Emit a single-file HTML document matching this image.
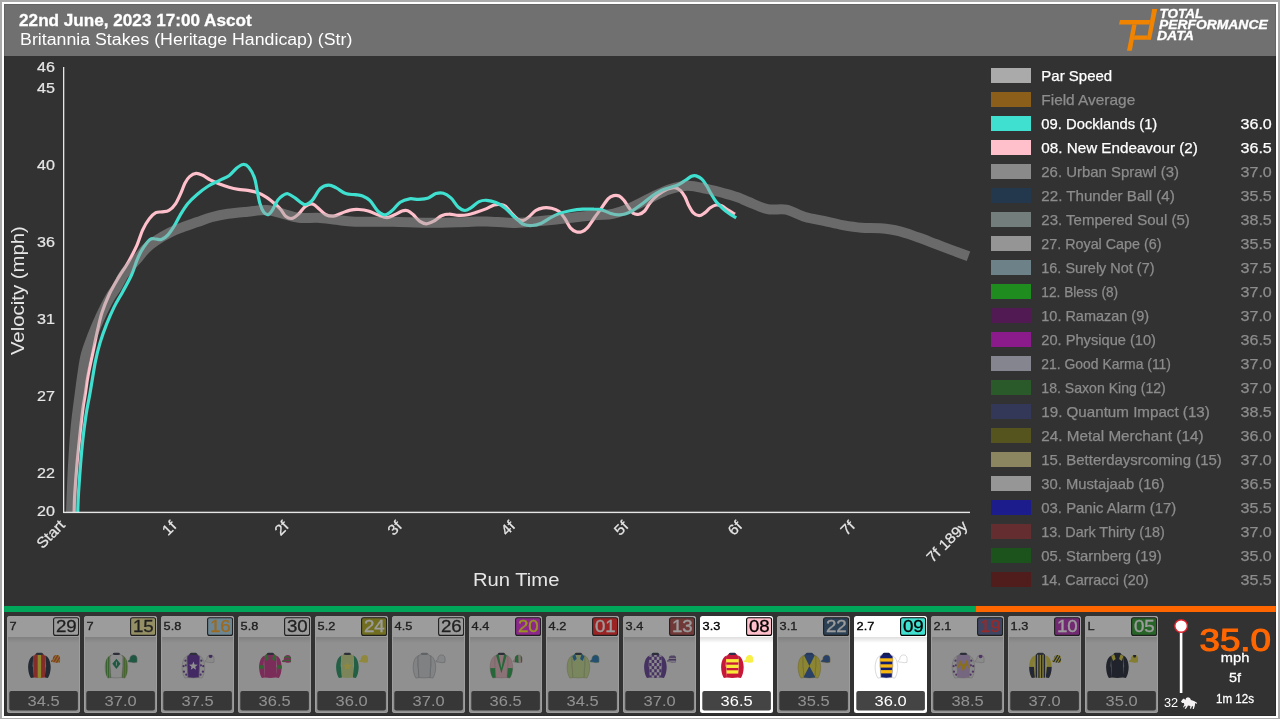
<!DOCTYPE html>
<html lang="en"><head><meta charset="utf-8"><title>Britannia Stakes - Total Performance Data</title>
<style>
html,body{margin:0;padding:0;background:#aaaaaa;overflow:hidden}
svg{display:block;font-family:"Liberation Sans", sans-serif}
text{white-space:pre}
</style></head><body>
<svg width="1280" height="719" viewBox="0 0 1280 719">

<rect x="0" y="0" width="1280" height="719" fill="#aaaaaa"/>
<rect x="2" y="2" width="1276" height="716" fill="#ffffff"/>
<rect x="4" y="4" width="1272" height="712" fill="#323232"/>
<rect x="4" y="4" width="1272" height="52" fill="#707070"/>
<text x="19.1" y="26.2" font-size="16" font-weight="bold" font-style="normal" fill="#fff" textLength="232.6" lengthAdjust="spacingAndGlyphs" stroke="#fff" stroke-width="0.3">22nd June, 2023 17:00 Ascot</text>
<text x="20.1" y="45.0" font-size="16" font-weight="normal" font-style="normal" fill="#fff" textLength="332.2" lengthAdjust="spacingAndGlyphs">Britannia Stakes (Heritage Handicap) (Str)</text>
<g fill="#f08400">
<polygon points="1152.2,9 1157.2,9 1151,39.8 1146.8,39.8"/>
<polygon points="1120,20 1150.2,20 1149.4,24.4 1119,24.4"/>
<polygon points="1132.2,24.4 1136.6,24.4 1131.8,50.8 1127,50.8"/>
<polygon points="1134.4,35.5 1147.6,35.5 1146.8,39.8 1133.6,39.8"/>
</g>
<text x="1159.6" y="17.8" font-size="11.9" font-weight="bold" font-style="italic" fill="#fff" textLength="43.6" lengthAdjust="spacingAndGlyphs" stroke="#fff" stroke-width="0.3">TOTAL</text>
<text x="1158.9" y="28.6" font-size="11.9" font-weight="bold" font-style="italic" fill="#fff" textLength="108.8" lengthAdjust="spacingAndGlyphs" stroke="#fff" stroke-width="0.3">PERFORMANCE</text>
<text x="1156.9" y="39.5" font-size="11.9" font-weight="bold" font-style="italic" fill="#fff" textLength="37.0" lengthAdjust="spacingAndGlyphs" stroke="#fff" stroke-width="0.3">DATA</text>
<defs><clipPath id="plot"><rect x="64" y="60" width="910" height="452"/></clipPath></defs>
<text transform="translate(55.0 72.2) scale(1.12 1)" font-size="14.4" font-weight="normal" font-style="normal" fill="#e6e6e6" text-anchor="end" stroke="#e6e6e6" stroke-width="0.2">46</text>
<text transform="translate(55.0 93.2) scale(1.12 1)" font-size="14.4" font-weight="normal" font-style="normal" fill="#e6e6e6" text-anchor="end" stroke="#e6e6e6" stroke-width="0.2">45</text>
<text transform="translate(55.0 170.2) scale(1.12 1)" font-size="14.4" font-weight="normal" font-style="normal" fill="#e6e6e6" text-anchor="end" stroke="#e6e6e6" stroke-width="0.2">40</text>
<text transform="translate(55.0 247.2) scale(1.12 1)" font-size="14.4" font-weight="normal" font-style="normal" fill="#e6e6e6" text-anchor="end" stroke="#e6e6e6" stroke-width="0.2">36</text>
<text transform="translate(55.0 324.2) scale(1.12 1)" font-size="14.4" font-weight="normal" font-style="normal" fill="#e6e6e6" text-anchor="end" stroke="#e6e6e6" stroke-width="0.2">31</text>
<text transform="translate(55.0 401.2) scale(1.12 1)" font-size="14.4" font-weight="normal" font-style="normal" fill="#e6e6e6" text-anchor="end" stroke="#e6e6e6" stroke-width="0.2">27</text>
<text transform="translate(55.0 478.2) scale(1.12 1)" font-size="14.4" font-weight="normal" font-style="normal" fill="#e6e6e6" text-anchor="end" stroke="#e6e6e6" stroke-width="0.2">22</text>
<text transform="translate(55.0 516.2) scale(1.12 1)" font-size="14.4" font-weight="normal" font-style="normal" fill="#e6e6e6" text-anchor="end" stroke="#e6e6e6" stroke-width="0.2">20</text>
<text x="-40.9" y="290.6" font-size="18" font-weight="normal" font-style="normal" fill="#e6e6e6" textLength="129.0" lengthAdjust="spacingAndGlyphs" transform="rotate(-90 23.6 290.6)">Velocity (mph)</text>
<g clip-path="url(#plot)" fill="none" stroke-linecap="butt" stroke-linejoin="round">
<path d="M74.1,513.0C74.2,509.7 74.3,501.3 74.8,493.3C75.3,485.3 76.1,474.5 76.9,465.1C77.7,455.7 78.7,446.3 79.7,436.9C80.7,427.5 81.9,416.3 82.9,408.8C83.9,401.3 84.8,397.4 85.6,392.0C86.4,386.6 86.7,382.8 87.9,376.4C89.1,370.0 91.0,361.4 92.6,353.9C94.2,346.4 95.7,338.3 97.3,331.4C98.9,324.5 100.0,318.9 102.0,312.6C104.0,306.3 106.7,299.8 109.5,293.8C112.3,287.9 116.2,281.5 118.9,276.9C121.7,272.3 123.9,269.4 126.0,266.0C128.1,262.6 129.6,259.9 131.4,256.4C133.2,252.9 135.1,249.6 137.0,245.2C138.9,240.8 140.6,234.5 142.6,230.1C144.6,225.7 147.0,221.8 149.2,218.9C151.4,216.0 153.6,213.9 155.8,212.7C158.0,211.5 160.1,212.3 162.3,211.9C164.5,211.5 166.7,211.8 168.9,210.4C171.1,209.1 173.5,206.8 175.5,203.8C177.5,200.8 179.5,196.0 181.1,192.6C182.7,189.2 183.5,185.9 184.9,183.2C186.3,180.5 187.7,178.2 189.6,176.6C191.5,175.0 193.9,173.6 196.1,173.4C198.3,173.2 200.3,174.2 202.7,175.3C205.0,176.4 207.4,178.3 210.2,179.8C213.0,181.3 216.5,182.8 219.6,184.1C222.7,185.3 225.9,186.4 229.0,187.3C232.1,188.2 235.3,188.9 238.4,189.4C241.5,189.9 244.7,189.8 247.8,190.3C250.9,190.8 254.1,191.4 257.2,192.6C260.3,193.8 263.5,195.3 266.6,197.3C269.7,199.3 273.6,202.7 276.0,204.8C278.4,206.9 279.4,207.9 281.0,209.8C282.6,211.7 283.8,214.8 285.6,216.2C287.4,217.6 289.8,218.8 292.0,218.4C294.2,218.0 296.6,215.8 298.8,213.8C301.0,211.8 303.0,207.9 305.4,206.3C307.8,204.7 310.6,203.6 312.9,204.1C315.2,204.6 317.2,207.4 319.4,209.2C321.6,211.0 323.6,213.7 326.0,214.8C328.4,216.0 330.8,216.4 333.5,216.1C336.2,215.8 339.2,213.9 342.0,212.9C344.8,211.9 347.6,210.7 350.4,210.1C353.2,209.5 355.9,209.3 358.9,209.5C361.9,209.7 365.2,210.1 368.3,211.0C371.4,211.9 374.6,213.7 377.7,214.8C380.8,215.9 384.2,217.6 387.0,217.6C389.8,217.6 392.1,215.9 394.6,214.8C397.1,213.7 399.9,211.7 402.1,211.0C404.3,210.3 405.8,210.1 407.7,210.7C409.6,211.3 411.3,213.0 413.3,214.8C415.3,216.6 417.7,219.9 419.9,221.4C422.1,222.9 424.1,223.9 426.5,223.8C428.9,223.7 431.5,222.3 434.0,221.0C436.5,219.7 439.0,216.8 441.5,215.7C444.0,214.6 446.2,214.2 449.0,214.2C451.8,214.1 455.3,215.3 458.4,215.4C461.5,215.5 464.7,215.4 467.8,214.8C470.9,214.2 474.1,213.0 477.2,212.0C480.3,211.0 483.8,209.8 486.6,208.6C489.4,207.4 491.7,205.7 494.1,205.0C496.5,204.3 499.1,204.4 501.0,204.6C502.9,204.8 503.9,204.9 505.6,206.3C507.3,207.7 509.3,210.8 511.3,212.9C513.3,215.0 515.8,217.8 517.8,219.1C519.8,220.3 521.6,220.8 523.5,220.4C525.4,220.0 527.1,218.3 529.1,216.7C531.1,215.0 533.4,212.0 535.7,210.5C538.1,209.0 540.6,208.2 543.2,207.8C545.9,207.4 548.9,207.6 551.6,208.2C554.3,208.8 557.0,209.9 559.2,211.6C561.4,213.3 562.9,215.8 564.8,218.5C566.7,221.2 568.5,225.7 570.4,227.9C572.3,230.1 574.2,231.1 576.1,231.7C578.0,232.3 579.8,232.3 581.7,231.7C583.6,231.1 585.3,230.1 587.3,227.9C589.3,225.7 591.5,221.8 593.9,218.5C596.2,215.2 599.0,211.5 601.4,208.2C603.8,204.9 606.0,200.9 608.0,198.8C610.0,196.7 611.7,196.1 613.6,195.6C615.5,195.1 617.5,195.2 619.2,196.0C620.9,196.8 622.3,198.4 623.9,200.3C625.5,202.2 627.0,205.1 628.6,207.3C630.2,209.5 631.6,212.2 633.3,213.3C635.0,214.5 637.1,214.6 639.0,214.2C640.9,213.8 642.7,212.9 644.6,211.0C646.5,209.1 648.0,205.2 650.2,202.6C652.4,199.9 654.9,197.3 657.7,195.1C660.5,192.9 664.3,190.7 667.1,189.4C669.9,188.2 672.4,187.4 674.6,187.6C676.8,187.8 678.6,188.8 680.3,190.4C682.0,192.0 683.6,194.4 685.0,196.9C686.4,199.4 687.3,202.7 688.7,205.4C690.1,208.1 691.7,211.2 693.4,212.9C695.1,214.6 697.2,215.7 699.1,215.7C701.0,215.7 702.8,214.2 704.7,212.9C706.6,211.6 708.4,209.1 710.3,207.8C712.2,206.5 714.1,205.3 716.0,205.0C717.9,204.7 719.6,205.0 721.6,205.8C723.6,206.7 726.0,208.7 728.2,210.1C730.4,211.5 733.9,213.5 735.0,214.2" stroke="#ffc0cb" stroke-width="3.2"/>
<path d="M77.7,513.0C77.8,509.4 78.1,499.4 78.6,491.4C79.1,483.4 79.8,473.9 80.5,465.1C81.2,456.3 82.0,447.2 82.9,438.8C83.8,430.4 84.9,422.2 86.1,414.4C87.3,406.6 88.7,400.8 90.2,392.0C91.8,383.2 93.8,369.6 95.4,361.4C97.1,353.2 98.2,348.9 100.1,342.6C102.0,336.3 104.3,329.8 106.7,323.8C109.1,317.9 111.6,312.2 114.2,306.9C116.8,301.6 119.7,297.2 122.6,291.9C125.5,286.6 129.1,280.3 131.5,275.0C133.9,269.7 135.2,264.6 137.0,260.2C138.8,255.8 140.4,252.3 142.6,248.9C144.8,245.5 147.9,241.2 150.1,239.5C152.3,237.8 153.9,239.0 155.8,239.0C157.7,239.0 159.4,240.2 161.4,239.5C163.4,238.8 165.8,237.2 168.0,234.8C170.2,232.5 172.6,228.7 174.6,225.4C176.6,222.1 178.0,218.7 180.2,215.1C182.4,211.5 184.9,207.2 187.7,203.8C190.5,200.4 193.6,197.5 197.1,194.5C200.6,191.5 204.7,188.3 208.4,186.0C212.2,183.7 216.2,182.1 219.6,180.4C223.0,178.7 226.2,177.7 229.0,175.7C231.8,173.7 234.2,170.1 236.5,168.2C238.8,166.3 241.1,164.7 243.1,164.5C245.1,164.3 246.8,165.0 248.7,167.2C250.6,169.4 253.0,173.7 254.4,177.6C255.8,181.5 256.3,186.3 257.2,190.7C258.1,195.1 258.9,200.2 260.0,203.8C261.1,207.4 262.4,210.5 263.8,212.3C265.2,214.1 266.7,214.9 268.1,214.6C269.5,214.3 270.6,212.8 272.2,210.4C273.8,208.0 276.0,202.6 277.8,200.1C279.6,197.6 281.3,196.5 283.0,195.4C284.7,194.3 285.8,193.3 287.8,193.7C289.8,194.1 292.2,196.1 295.0,197.9C297.8,199.7 301.6,204.0 304.4,204.5C307.2,205.0 309.2,203.4 311.9,200.7C314.6,198.0 317.6,191.1 320.4,188.5C323.2,185.9 326.1,185.2 328.8,185.1C331.5,185.0 333.5,186.5 336.3,187.9C339.1,189.3 342.6,192.5 345.7,193.6C348.8,194.7 352.3,194.3 355.1,194.7C357.9,195.1 360.1,195.0 362.6,196.0C365.1,197.0 367.6,198.2 370.1,200.7C372.6,203.2 375.2,208.7 377.7,211.0C380.2,213.3 382.7,215.0 385.2,214.8C387.7,214.7 390.2,212.2 392.7,210.1C395.2,208.0 397.4,204.1 400.2,202.2C403.0,200.3 406.5,199.3 409.6,198.8C412.7,198.3 415.9,199.6 419.0,199.4C422.1,199.2 425.6,198.9 428.4,197.9C431.2,196.9 433.4,194.4 435.9,193.6C438.4,192.8 440.9,192.5 443.4,193.2C445.9,193.9 448.4,195.6 450.9,197.9C453.4,200.2 456.0,205.2 458.4,207.3C460.8,209.4 462.8,210.5 465.0,210.5C467.2,210.5 469.1,208.8 471.5,207.3C473.9,205.8 476.6,202.8 479.1,201.6C481.6,200.4 483.8,200.1 486.6,200.3C489.4,200.5 492.9,201.3 496.0,202.6C499.1,203.9 502.6,206.0 505.4,208.2C508.2,210.4 510.6,213.6 512.9,215.7C515.2,217.8 517.1,219.5 519.0,221.0C520.9,222.5 521.9,223.8 524.0,224.5C526.1,225.2 529.0,225.7 531.9,225.5C534.8,225.3 538.2,224.5 541.3,223.2C544.4,221.9 547.6,219.2 550.7,217.6C553.8,215.9 556.7,214.5 560.1,213.3C563.5,212.1 567.6,211.2 571.4,210.5C575.1,209.8 578.9,209.4 582.6,209.2C586.4,209.0 590.6,209.0 593.9,209.2C597.2,209.3 599.5,209.4 602.3,210.1C605.1,210.8 608.1,212.7 610.8,213.5C613.5,214.3 615.8,214.8 618.3,214.8C620.8,214.9 623.3,214.6 625.8,213.8C628.3,213.0 630.5,211.8 633.3,210.1C636.1,208.4 639.6,205.8 642.7,203.5C645.8,201.2 649.0,198.2 652.1,196.0C655.2,193.8 658.4,191.9 661.5,190.4C664.6,188.9 668.1,188.1 670.9,187.2C673.7,186.2 675.9,185.9 678.4,184.7C680.9,183.5 683.7,181.4 685.9,180.0C688.1,178.6 689.8,177.0 691.5,176.3C693.2,175.6 694.5,175.4 696.2,175.9C697.9,176.4 700.2,177.5 701.9,179.1C703.6,180.7 705.0,183.2 706.6,185.7C708.2,188.2 709.7,191.4 711.3,194.1C712.9,196.8 714.1,199.2 716.0,201.6C717.9,203.9 720.3,206.2 722.5,208.2C724.7,210.2 726.8,211.9 729.1,213.5C731.4,215.1 735.0,217.1 736.2,217.8" stroke="#40e0d0" stroke-width="3.2"/>
<path d="M71.0,513.0C71.3,505.0 72.2,479.3 73.0,465.1C73.8,450.9 74.5,439.5 75.6,427.6C76.7,415.8 78.5,403.1 79.7,394.0C80.9,384.9 81.5,379.4 82.6,372.7C83.6,366.0 84.3,360.2 86.0,353.9C87.7,347.6 90.2,341.4 92.6,335.1C95.0,328.8 97.6,322.6 100.5,316.3C103.4,310.1 107.2,302.4 109.9,297.6C112.6,292.8 114.2,291.4 116.7,287.4C119.2,283.4 121.2,278.0 124.6,273.4C128.0,268.8 133.3,263.6 136.9,259.5C140.5,255.4 142.9,251.7 146.0,248.6C149.1,245.5 151.7,243.5 155.6,240.8C159.5,238.2 164.9,235.0 169.5,232.7C174.1,230.4 178.8,228.7 183.4,226.9C188.1,225.1 192.8,223.6 197.4,222.0C202.1,220.4 206.2,218.7 211.3,217.3C216.4,215.9 221.9,214.7 228.0,213.8C234.1,212.9 241.4,212.3 247.8,211.7C254.2,211.0 261.2,209.7 266.6,209.9C272.0,210.1 274.6,211.6 280.0,212.9C285.4,214.2 292.5,217.0 298.8,217.8C305.1,218.6 311.4,217.5 317.6,217.8C323.9,218.2 330.1,219.2 336.3,219.9C342.6,220.6 345.7,221.4 355.1,221.7C364.5,222.0 380.2,221.5 392.7,221.7C405.2,221.9 417.7,222.7 430.2,222.7C442.7,222.7 458.4,222.1 467.8,221.9C477.2,221.7 480.3,221.3 486.6,221.4C492.9,221.5 500.0,222.3 505.4,222.5C510.8,222.7 510.3,223.2 518.8,222.7C527.3,222.2 543.8,220.8 556.3,219.5C568.8,218.2 584.5,216.1 593.9,215.2C603.3,214.2 606.4,215.1 612.7,213.8C619.0,212.5 625.2,210.0 631.5,207.3C637.8,204.7 644.0,200.9 650.2,197.9C656.5,194.9 662.7,191.4 669.0,189.4C675.3,187.4 681.5,185.8 687.8,185.7C694.1,185.6 700.4,187.6 706.6,188.9C712.9,190.2 721.1,192.5 725.3,193.6C729.5,194.7 729.5,194.8 732.0,195.6C734.5,196.4 737.2,197.1 740.0,198.2C742.8,199.3 744.2,200.2 748.8,202.0C753.4,203.8 761.4,207.9 767.6,209.2C773.9,210.5 780.0,208.4 786.3,209.7C792.5,211.0 798.8,215.2 805.1,217.0C811.4,218.8 817.6,219.5 823.9,220.8C830.2,222.2 836.4,223.9 842.7,225.1C849.0,226.2 855.2,227.2 861.5,227.7C867.8,228.2 874.0,227.7 880.2,228.3C886.5,228.9 892.7,229.6 899.0,231.1C905.3,232.6 911.5,235.1 917.8,237.3C924.1,239.5 930.4,242.0 936.6,244.3C942.9,246.7 950.0,249.4 955.3,251.4C960.6,253.4 966.3,255.5 968.5,256.3" stroke="#a2a2a2" stroke-opacity="0.5" stroke-width="10"/>
</g>
<rect x="63" y="67" width="1.3" height="446" fill="#e6e6e6"/>
<rect x="63" y="511.7" width="907" height="1.4" fill="#e6e6e6"/>
<text transform="translate(65.8 526.0) rotate(-45) scale(1.07 1)" font-size="14.6" font-weight="normal" font-style="normal" fill="#e6e6e6" text-anchor="end" stroke="#e6e6e6" stroke-width="0.25">Start</text>
<text transform="translate(177.2 527.0) rotate(-45) scale(1.07 1)" font-size="14.6" font-weight="normal" font-style="normal" fill="#e6e6e6" text-anchor="end" stroke="#e6e6e6" stroke-width="0.25">1f</text>
<text transform="translate(289.6 527.0) rotate(-45) scale(1.07 1)" font-size="14.6" font-weight="normal" font-style="normal" fill="#e6e6e6" text-anchor="end" stroke="#e6e6e6" stroke-width="0.25">2f</text>
<text transform="translate(402.8 527.0) rotate(-45) scale(1.07 1)" font-size="14.6" font-weight="normal" font-style="normal" fill="#e6e6e6" text-anchor="end" stroke="#e6e6e6" stroke-width="0.25">3f</text>
<text transform="translate(516.0 527.0) rotate(-45) scale(1.07 1)" font-size="14.6" font-weight="normal" font-style="normal" fill="#e6e6e6" text-anchor="end" stroke="#e6e6e6" stroke-width="0.25">4f</text>
<text transform="translate(629.2 527.0) rotate(-45) scale(1.07 1)" font-size="14.6" font-weight="normal" font-style="normal" fill="#e6e6e6" text-anchor="end" stroke="#e6e6e6" stroke-width="0.25">5f</text>
<text transform="translate(743.0 527.0) rotate(-45) scale(1.07 1)" font-size="14.6" font-weight="normal" font-style="normal" fill="#e6e6e6" text-anchor="end" stroke="#e6e6e6" stroke-width="0.25">6f</text>
<text transform="translate(855.7 527.0) rotate(-45) scale(1.07 1)" font-size="14.6" font-weight="normal" font-style="normal" fill="#e6e6e6" text-anchor="end" stroke="#e6e6e6" stroke-width="0.25">7f</text>
<text transform="translate(968.6 527.0) rotate(-45) scale(1.07 1)" font-size="14.6" font-weight="normal" font-style="normal" fill="#e6e6e6" text-anchor="end" stroke="#e6e6e6" stroke-width="0.25">7f 189y</text>
<text x="473.0" y="585.5" font-size="18" font-weight="normal" font-style="normal" fill="#e6e6e6" textLength="86.4" lengthAdjust="spacingAndGlyphs">Run Time</text>
<rect x="991" y="68.0" width="40" height="15" fill="#aaaaaa"/>
<text x="1041.3" y="80.7" font-size="14.5" font-weight="normal" font-style="normal" fill="#ffffff" textLength="70.9" lengthAdjust="spacingAndGlyphs" stroke="#ffffff" stroke-width="0.25">Par Speed</text>
<rect x="991" y="92.0" width="40" height="15" fill="#8b5e1a"/>
<text x="1041.3" y="104.7" font-size="14.5" font-weight="normal" font-style="normal" fill="#8c8c8c" textLength="93.9" lengthAdjust="spacingAndGlyphs" stroke="#8c8c8c" stroke-width="0.25">Field Average</text>
<rect x="991" y="116.0" width="40" height="15" fill="#40e0d0"/>
<text x="1041.3" y="128.7" font-size="14.5" font-weight="normal" font-style="normal" fill="#ffffff" textLength="116.0" lengthAdjust="spacingAndGlyphs" stroke="#ffffff" stroke-width="0.25">09. Docklands (1)</text>
<text x="1240.5" y="128.7" font-size="14.5" font-weight="normal" font-style="normal" fill="#ffffff" textLength="31.3" lengthAdjust="spacingAndGlyphs" stroke="#ffffff" stroke-width="0.25">36.0</text>
<rect x="991" y="140.0" width="40" height="15" fill="#ffc0cb"/>
<text x="1041.3" y="152.7" font-size="14.5" font-weight="normal" font-style="normal" fill="#ffffff" textLength="156.5" lengthAdjust="spacingAndGlyphs" stroke="#ffffff" stroke-width="0.25">08. New Endeavour (2)</text>
<text x="1240.5" y="152.7" font-size="14.5" font-weight="normal" font-style="normal" fill="#ffffff" textLength="31.3" lengthAdjust="spacingAndGlyphs" stroke="#ffffff" stroke-width="0.25">36.5</text>
<rect x="991" y="164.0" width="40" height="15" fill="#8a8a8a"/>
<text x="1041.3" y="176.7" font-size="14.5" font-weight="normal" font-style="normal" fill="#8c8c8c" textLength="137.7" lengthAdjust="spacingAndGlyphs" stroke="#8c8c8c" stroke-width="0.25">26. Urban Sprawl (3)</text>
<text x="1240.5" y="176.7" font-size="14.5" font-weight="normal" font-style="normal" fill="#8c8c8c" textLength="31.3" lengthAdjust="spacingAndGlyphs" stroke="#8c8c8c" stroke-width="0.25">37.0</text>
<rect x="991" y="188.0" width="40" height="15" fill="#23384d"/>
<text x="1041.3" y="200.7" font-size="14.5" font-weight="normal" font-style="normal" fill="#8c8c8c" textLength="133.5" lengthAdjust="spacingAndGlyphs" stroke="#8c8c8c" stroke-width="0.25">22. Thunder Ball (4)</text>
<text x="1240.5" y="200.7" font-size="14.5" font-weight="normal" font-style="normal" fill="#8c8c8c" textLength="31.3" lengthAdjust="spacingAndGlyphs" stroke="#8c8c8c" stroke-width="0.25">35.5</text>
<rect x="991" y="212.0" width="40" height="15" fill="#737d7b"/>
<text x="1041.3" y="224.7" font-size="14.5" font-weight="normal" font-style="normal" fill="#8c8c8c" textLength="148.5" lengthAdjust="spacingAndGlyphs" stroke="#8c8c8c" stroke-width="0.25">23. Tempered Soul (5)</text>
<text x="1240.5" y="224.7" font-size="14.5" font-weight="normal" font-style="normal" fill="#8c8c8c" textLength="31.3" lengthAdjust="spacingAndGlyphs" stroke="#8c8c8c" stroke-width="0.25">38.5</text>
<rect x="991" y="236.0" width="40" height="15" fill="#959595"/>
<text x="1041.3" y="248.7" font-size="14.5" font-weight="normal" font-style="normal" fill="#8c8c8c" textLength="120.2" lengthAdjust="spacingAndGlyphs" stroke="#8c8c8c" stroke-width="0.25">27. Royal Cape (6)</text>
<text x="1240.5" y="248.7" font-size="14.5" font-weight="normal" font-style="normal" fill="#8c8c8c" textLength="31.3" lengthAdjust="spacingAndGlyphs" stroke="#8c8c8c" stroke-width="0.25">35.5</text>
<rect x="991" y="260.0" width="40" height="15" fill="#6d8189"/>
<text x="1041.3" y="272.7" font-size="14.5" font-weight="normal" font-style="normal" fill="#8c8c8c" textLength="113.2" lengthAdjust="spacingAndGlyphs" stroke="#8c8c8c" stroke-width="0.25">16. Surely Not (7)</text>
<text x="1240.5" y="272.7" font-size="14.5" font-weight="normal" font-style="normal" fill="#8c8c8c" textLength="31.3" lengthAdjust="spacingAndGlyphs" stroke="#8c8c8c" stroke-width="0.25">37.5</text>
<rect x="991" y="284.0" width="40" height="15" fill="#1f8c1f"/>
<text x="1041.3" y="296.7" font-size="14.5" font-weight="normal" font-style="normal" fill="#8c8c8c" textLength="76.9" lengthAdjust="spacingAndGlyphs" stroke="#8c8c8c" stroke-width="0.25">12. Bless (8)</text>
<text x="1240.5" y="296.7" font-size="14.5" font-weight="normal" font-style="normal" fill="#8c8c8c" textLength="31.3" lengthAdjust="spacingAndGlyphs" stroke="#8c8c8c" stroke-width="0.25">37.0</text>
<rect x="991" y="308.0" width="40" height="15" fill="#521a52"/>
<text x="1041.3" y="320.7" font-size="14.5" font-weight="normal" font-style="normal" fill="#8c8c8c" textLength="107.7" lengthAdjust="spacingAndGlyphs" stroke="#8c8c8c" stroke-width="0.25">10. Ramazan (9)</text>
<text x="1240.5" y="320.7" font-size="14.5" font-weight="normal" font-style="normal" fill="#8c8c8c" textLength="31.3" lengthAdjust="spacingAndGlyphs" stroke="#8c8c8c" stroke-width="0.25">37.0</text>
<rect x="991" y="332.0" width="40" height="15" fill="#8b1a8b"/>
<text x="1041.3" y="344.7" font-size="14.5" font-weight="normal" font-style="normal" fill="#8c8c8c" textLength="114.7" lengthAdjust="spacingAndGlyphs" stroke="#8c8c8c" stroke-width="0.25">20. Physique (10)</text>
<text x="1240.5" y="344.7" font-size="14.5" font-weight="normal" font-style="normal" fill="#8c8c8c" textLength="31.3" lengthAdjust="spacingAndGlyphs" stroke="#8c8c8c" stroke-width="0.25">36.5</text>
<rect x="991" y="356.0" width="40" height="15" fill="#858590"/>
<text x="1041.3" y="368.7" font-size="14.5" font-weight="normal" font-style="normal" fill="#8c8c8c" textLength="129.7" lengthAdjust="spacingAndGlyphs" stroke="#8c8c8c" stroke-width="0.25">21. Good Karma (11)</text>
<text x="1240.5" y="368.7" font-size="14.5" font-weight="normal" font-style="normal" fill="#8c8c8c" textLength="31.3" lengthAdjust="spacingAndGlyphs" stroke="#8c8c8c" stroke-width="0.25">37.0</text>
<rect x="991" y="380.0" width="40" height="15" fill="#2a5a2a"/>
<text x="1041.3" y="392.7" font-size="14.5" font-weight="normal" font-style="normal" fill="#8c8c8c" textLength="124.5" lengthAdjust="spacingAndGlyphs" stroke="#8c8c8c" stroke-width="0.25">18. Saxon King (12)</text>
<text x="1240.5" y="392.7" font-size="14.5" font-weight="normal" font-style="normal" fill="#8c8c8c" textLength="31.3" lengthAdjust="spacingAndGlyphs" stroke="#8c8c8c" stroke-width="0.25">37.0</text>
<rect x="991" y="404.0" width="40" height="15" fill="#343858"/>
<text x="1041.3" y="416.7" font-size="14.5" font-weight="normal" font-style="normal" fill="#8c8c8c" textLength="168.5" lengthAdjust="spacingAndGlyphs" stroke="#8c8c8c" stroke-width="0.25">19. Quantum Impact (13)</text>
<text x="1240.5" y="416.7" font-size="14.5" font-weight="normal" font-style="normal" fill="#8c8c8c" textLength="31.3" lengthAdjust="spacingAndGlyphs" stroke="#8c8c8c" stroke-width="0.25">38.5</text>
<rect x="991" y="428.0" width="40" height="15" fill="#55531e"/>
<text x="1041.3" y="440.7" font-size="14.5" font-weight="normal" font-style="normal" fill="#8c8c8c" textLength="162.2" lengthAdjust="spacingAndGlyphs" stroke="#8c8c8c" stroke-width="0.25">24. Metal Merchant (14)</text>
<text x="1240.5" y="440.7" font-size="14.5" font-weight="normal" font-style="normal" fill="#8c8c8c" textLength="31.3" lengthAdjust="spacingAndGlyphs" stroke="#8c8c8c" stroke-width="0.25">36.0</text>
<rect x="991" y="452.0" width="40" height="15" fill="#8b8560"/>
<text x="1041.3" y="464.7" font-size="14.5" font-weight="normal" font-style="normal" fill="#8c8c8c" textLength="180.5" lengthAdjust="spacingAndGlyphs" stroke="#8c8c8c" stroke-width="0.25">15. Betterdaysrcoming (15)</text>
<text x="1240.5" y="464.7" font-size="14.5" font-weight="normal" font-style="normal" fill="#8c8c8c" textLength="31.3" lengthAdjust="spacingAndGlyphs" stroke="#8c8c8c" stroke-width="0.25">37.0</text>
<rect x="991" y="476.0" width="40" height="15" fill="#969696"/>
<text x="1041.3" y="488.7" font-size="14.5" font-weight="normal" font-style="normal" fill="#8c8c8c" textLength="123.2" lengthAdjust="spacingAndGlyphs" stroke="#8c8c8c" stroke-width="0.25">30. Mustajaab (16)</text>
<text x="1240.5" y="488.7" font-size="14.5" font-weight="normal" font-style="normal" fill="#8c8c8c" textLength="31.3" lengthAdjust="spacingAndGlyphs" stroke="#8c8c8c" stroke-width="0.25">36.5</text>
<rect x="991" y="500.0" width="40" height="15" fill="#1c1c8c"/>
<text x="1041.3" y="512.7" font-size="14.5" font-weight="normal" font-style="normal" fill="#8c8c8c" textLength="135.0" lengthAdjust="spacingAndGlyphs" stroke="#8c8c8c" stroke-width="0.25">03. Panic Alarm (17)</text>
<text x="1240.5" y="512.7" font-size="14.5" font-weight="normal" font-style="normal" fill="#8c8c8c" textLength="31.3" lengthAdjust="spacingAndGlyphs" stroke="#8c8c8c" stroke-width="0.25">35.5</text>
<rect x="991" y="524.0" width="40" height="15" fill="#642e30"/>
<text x="1041.3" y="536.7" font-size="14.5" font-weight="normal" font-style="normal" fill="#8c8c8c" textLength="123.5" lengthAdjust="spacingAndGlyphs" stroke="#8c8c8c" stroke-width="0.25">13. Dark Thirty (18)</text>
<text x="1240.5" y="536.7" font-size="14.5" font-weight="normal" font-style="normal" fill="#8c8c8c" textLength="31.3" lengthAdjust="spacingAndGlyphs" stroke="#8c8c8c" stroke-width="0.25">37.0</text>
<rect x="991" y="548.0" width="40" height="15" fill="#1c531c"/>
<text x="1041.3" y="560.7" font-size="14.5" font-weight="normal" font-style="normal" fill="#8c8c8c" textLength="120.3" lengthAdjust="spacingAndGlyphs" stroke="#8c8c8c" stroke-width="0.25">05. Starnberg (19)</text>
<text x="1240.5" y="560.7" font-size="14.5" font-weight="normal" font-style="normal" fill="#8c8c8c" textLength="31.3" lengthAdjust="spacingAndGlyphs" stroke="#8c8c8c" stroke-width="0.25">35.0</text>
<rect x="991" y="572.0" width="40" height="15" fill="#501c1c"/>
<text x="1041.3" y="584.7" font-size="14.5" font-weight="normal" font-style="normal" fill="#8c8c8c" textLength="107.2" lengthAdjust="spacingAndGlyphs" stroke="#8c8c8c" stroke-width="0.25">14. Carracci (20)</text>
<text x="1240.5" y="584.7" font-size="14.5" font-weight="normal" font-style="normal" fill="#8c8c8c" textLength="31.3" lengthAdjust="spacingAndGlyphs" stroke="#8c8c8c" stroke-width="0.25">35.5</text>
<rect x="4" y="606" width="972" height="6" fill="#00a65a"/>
<rect x="976" y="606" width="300" height="6" fill="#ff6600"/>
<defs><linearGradient id="shd" x1="0" y1="0" x2="0" y2="1"><stop offset="0" stop-color="#000" stop-opacity="0.13"/><stop offset="1" stop-color="#000" stop-opacity="0"/></linearGradient></defs>
<g opacity="0.5">
<rect x="7" y="616" width="73" height="97" rx="2.5" fill="#ffffff"/>
<rect x="7" y="637" width="73" height="6" fill="url(#shd)"/>
<rect x="53.6" y="617.8" width="25" height="17.6" rx="2" fill="none" stroke="#000" stroke-width="1.1"/>
<text x="55.9" y="632.4" font-size="16.5" font-weight="normal" font-style="normal" fill="#000" textLength="20.8" lengthAdjust="spacingAndGlyphs" stroke="#000" stroke-width="0.3">29</text>
<text transform="translate(9.6 630.2) scale(1.08 1)" font-size="11.8" font-weight="normal" font-style="normal" fill="#000" text-anchor="start" stroke="#000" stroke-width="0.35">7</text>
<g transform="translate(28.1 652.7)"><clipPath id="ct0"><path d="M4.9,4 L7.2,1.6 L8,0.8 L14.6,0.8 L15.4,1.6 L17.7,4 L17.4,14 L16.8,24.8 Q11.3,25.7 5.8,24.8 L5.2,14 Z"/></clipPath><clipPath id="cs0"><path d="M5.8,2.8 C2.2,3.8 0.3,8 0,14.5 C0.1,19 1.2,23 2.8,25.4 L5.9,24.9 L5.1,15 L4.6,13.6 L5,5 Z"/><path d="M16.8,2.8 C20.4,3.8 22.3,8 22.6,14.5 C22.5,19 21.4,23 19.8,25.4 L16.7,24.9 L17.5,15 L18,13.6 L17.6,5 Z"/></clipPath><path d="M5.8,2.8 C2.2,3.8 0.3,8 0,14.5 C0.1,19 1.2,23 2.8,25.4 L5.9,24.9 L5.1,15 L4.6,13.6 L5,5 Z" fill="#1d2a3c"/><path d="M16.8,2.8 C20.4,3.8 22.3,8 22.6,14.5 C22.5,19 21.4,23 19.8,25.4 L16.7,24.9 L17.5,15 L18,13.6 L17.6,5 Z" fill="#1d2a3c"/><path d="M4.9,4 L7.2,1.6 L8,0.8 L14.6,0.8 L15.4,1.6 L17.7,4 L17.4,14 L16.8,24.8 Q11.3,25.7 5.8,24.8 L5.2,14 Z" fill="#e83028"/><g clip-path="url(#ct0)"><rect x="9.6" y="0" width="3.4" height="26" fill="#f8ec30"/></g><path d="M7.6,1.8 Q7.9,0 9,0 L13.6,0 Q14.7,0 15,1.8 Q11.3,2.9 7.6,1.8 Z" fill="#2b3344"/></g><g transform="translate(50.8 654.9)"><clipPath id="cc0"><path d="M0,6 L2,4.6 C1.8,1.6 3.8,0 5.8,0 C8.4,0 9.5,2 9.3,4.8 L9.2,7.4 Q6.4,8.3 3.6,7.3 L0.5,7 Z"/></clipPath><path d="M0,6 L2,4.6 C1.8,1.6 3.8,0 5.8,0 C8.4,0 9.5,2 9.3,4.8 L9.2,7.4 Q6.4,8.3 3.6,7.3 L0.5,7 Z" fill="#f0b428"/><g clip-path="url(#cc0)"><path d="M-4,9 L2,-1" stroke="#e0501e" stroke-width="1.4"/><path d="M-1,9 L5,-1" stroke="#e0501e" stroke-width="1.4"/><path d="M2,9 L8,-1" stroke="#e0501e" stroke-width="1.4"/><path d="M5,9 L11,-1" stroke="#e0501e" stroke-width="1.4"/><path d="M8,9 L14,-1" stroke="#e0501e" stroke-width="1.4"/><path d="M11,9 L17,-1" stroke="#e0501e" stroke-width="1.4"/></g></g>
<rect x="9.3" y="691" width="68.6" height="19.6" rx="2" fill="#444444"/>
<text x="27.6" y="705.5" font-size="15" font-weight="normal" font-style="normal" fill="#ffffff" textLength="32.0" lengthAdjust="spacingAndGlyphs">34.5</text>
</g>
<rect x="7" y="637" width="73" height="76" fill="#000" opacity="0.055"/>
<rect x="7" y="616" width="73" height="21" fill="#fff" opacity="0.03"/>
<rect x="7.5" y="616.5" width="72" height="96" rx="2.2" fill="none" stroke="#9e9e9e" stroke-width="1"/>
<g opacity="0.5">
<rect x="84" y="616" width="73" height="97" rx="2.5" fill="#ffffff"/>
<rect x="84" y="637" width="73" height="6" fill="url(#shd)"/>
<rect x="130.6" y="617.8" width="25" height="17.6" rx="2" fill="#f0e68c" stroke="#000" stroke-width="1.1"/>
<text x="132.9" y="632.4" font-size="16.5" font-weight="normal" font-style="normal" fill="#000" textLength="20.8" lengthAdjust="spacingAndGlyphs" stroke="#000" stroke-width="0.3">15</text>
<text transform="translate(86.6 630.2) scale(1.08 1)" font-size="11.8" font-weight="normal" font-style="normal" fill="#000" text-anchor="start" stroke="#000" stroke-width="0.35">7</text>
<g transform="translate(105.1 652.7)"><clipPath id="ct1"><path d="M4.9,4 L7.2,1.6 L8,0.8 L14.6,0.8 L15.4,1.6 L17.7,4 L17.4,14 L16.8,24.8 Q11.3,25.7 5.8,24.8 L5.2,14 Z"/></clipPath><clipPath id="cs1"><path d="M5.8,2.8 C2.2,3.8 0.3,8 0,14.5 C0.1,19 1.2,23 2.8,25.4 L5.9,24.9 L5.1,15 L4.6,13.6 L5,5 Z"/><path d="M16.8,2.8 C20.4,3.8 22.3,8 22.6,14.5 C22.5,19 21.4,23 19.8,25.4 L16.7,24.9 L17.5,15 L18,13.6 L17.6,5 Z"/></clipPath><path d="M5.8,2.8 C2.2,3.8 0.3,8 0,14.5 C0.1,19 1.2,23 2.8,25.4 L5.9,24.9 L5.1,15 L4.6,13.6 L5,5 Z" fill="#d6c626" stroke="#9a9a9a" stroke-width="0.5"/><path d="M16.8,2.8 C20.4,3.8 22.3,8 22.6,14.5 C22.5,19 21.4,23 19.8,25.4 L16.7,24.9 L17.5,15 L18,13.6 L17.6,5 Z" fill="#d6c626" stroke="#9a9a9a" stroke-width="0.5"/><g clip-path="url(#cs1)"><rect x="1.0" y="0" width="1.0" height="26" fill="#3a9a3a"/><rect x="3.0" y="0" width="1.0" height="26" fill="#3a9a3a"/><rect x="5.0" y="0" width="1.0" height="26" fill="#3a9a3a"/><rect x="16.6" y="0" width="1.0" height="26" fill="#3a9a3a"/><rect x="18.6" y="0" width="1.0" height="26" fill="#3a9a3a"/><rect x="20.6" y="0" width="1.0" height="26" fill="#3a9a3a"/></g><path d="M4.9,4 L7.2,1.6 L8,0.8 L14.6,0.8 L15.4,1.6 L17.7,4 L17.4,14 L16.8,24.8 Q11.3,25.7 5.8,24.8 L5.2,14 Z" fill="#f6f6f6" stroke="#9a9a9a" stroke-width="0.5"/><g clip-path="url(#ct1)"><polygon points="11.3,6 15.4,11.1 11.3,16.2 7.2,11.1" fill="#0f8a5a"/><rect x="10.8" y="9" width="1" height="4" fill="#c8ecd8"/></g><path d="M7.6,1.8 Q7.9,0 9,0 L13.6,0 Q14.7,0 15,1.8 Q11.3,2.9 7.6,1.8 Z" fill="#2b3344"/></g><g transform="translate(127.8 654.9)"><clipPath id="cc1"><path d="M0,6 L2,4.6 C1.8,1.6 3.8,0 5.8,0 C8.4,0 9.5,2 9.3,4.8 L9.2,7.4 Q6.4,8.3 3.6,7.3 L0.5,7 Z"/></clipPath><path d="M0,6 L2,4.6 C1.8,1.6 3.8,0 5.8,0 C8.4,0 9.5,2 9.3,4.8 L9.2,7.4 Q6.4,8.3 3.6,7.3 L0.5,7 Z" fill="#0f8a5a" stroke="#9a9a9a" stroke-width="0.5"/></g>
<rect x="86.3" y="691" width="68.6" height="19.6" rx="2" fill="#444444"/>
<text x="104.6" y="705.5" font-size="15" font-weight="normal" font-style="normal" fill="#ffffff" textLength="32.0" lengthAdjust="spacingAndGlyphs">37.0</text>
</g>
<rect x="84" y="637" width="73" height="76" fill="#000" opacity="0.055"/>
<rect x="84" y="616" width="73" height="21" fill="#fff" opacity="0.03"/>
<rect x="84.5" y="616.5" width="72" height="96" rx="2.2" fill="none" stroke="#9e9e9e" stroke-width="1"/>
<g opacity="0.5">
<rect x="161" y="616" width="73" height="97" rx="2.5" fill="#ffffff"/>
<rect x="161" y="637" width="73" height="6" fill="url(#shd)"/>
<rect x="207.6" y="617.8" width="25" height="17.6" rx="2" fill="#9fd4ee" stroke="#000" stroke-width="1.1"/>
<text x="209.9" y="632.4" font-size="16.5" font-weight="normal" font-style="normal" fill="#ff9800" textLength="20.8" lengthAdjust="spacingAndGlyphs" stroke="#ff9800" stroke-width="0.3">16</text>
<text transform="translate(163.6 630.2) scale(1.08 1)" font-size="11.8" font-weight="normal" font-style="normal" fill="#000" text-anchor="start" stroke="#000" stroke-width="0.35">5.8</text>
<g transform="translate(182.1 652.7)"><clipPath id="ct2"><path d="M4.9,4 L7.2,1.6 L8,0.8 L14.6,0.8 L15.4,1.6 L17.7,4 L17.4,14 L16.8,24.8 Q11.3,25.7 5.8,24.8 L5.2,14 Z"/></clipPath><clipPath id="cs2"><path d="M5.8,2.8 C2.2,3.8 0.3,8 0,14.5 C0.1,19 1.2,23 2.8,25.4 L5.9,24.9 L5.1,15 L4.6,13.6 L5,5 Z"/><path d="M16.8,2.8 C20.4,3.8 22.3,8 22.6,14.5 C22.5,19 21.4,23 19.8,25.4 L16.7,24.9 L17.5,15 L18,13.6 L17.6,5 Z"/></clipPath><path d="M5.8,2.8 C2.2,3.8 0.3,8 0,14.5 C0.1,19 1.2,23 2.8,25.4 L5.9,24.9 L5.1,15 L4.6,13.6 L5,5 Z" fill="#f6f6f6" stroke="#aaa" stroke-width="0.5"/><path d="M16.8,2.8 C20.4,3.8 22.3,8 22.6,14.5 C22.5,19 21.4,23 19.8,25.4 L16.7,24.9 L17.5,15 L18,13.6 L17.6,5 Z" fill="#f6f6f6" stroke="#aaa" stroke-width="0.5"/><g clip-path="url(#cs2)"><circle cx="3.4" cy="8" r="1.15" fill="#6a34a8"/><circle cx="1.4" cy="13.5" r="1.15" fill="#6a34a8"/><circle cx="3.8" cy="12.6" r="1.15" fill="#6a34a8"/><circle cx="1.8" cy="19" r="1.15" fill="#6a34a8"/><circle cx="4.2" cy="22" r="1.15" fill="#6a34a8"/><circle cx="19.2" cy="8" r="1.15" fill="#6a34a8"/><circle cx="21.2" cy="13.5" r="1.15" fill="#6a34a8"/><circle cx="18.8" cy="12.6" r="1.15" fill="#6a34a8"/><circle cx="20.8" cy="19" r="1.15" fill="#6a34a8"/><circle cx="18.4" cy="22" r="1.15" fill="#6a34a8"/></g><path d="M4.9,4 L7.2,1.6 L8,0.8 L14.6,0.8 L15.4,1.6 L17.7,4 L17.4,14 L16.8,24.8 Q11.3,25.7 5.8,24.8 L5.2,14 Z" fill="#5c28a0" stroke="#aaa" stroke-width="0.5"/><g clip-path="url(#ct2)"><polygon points="11.30,8.80 12.44,11.84 15.67,11.98 13.14,14.00 14.00,17.12 11.30,15.33 8.60,17.12 9.46,14.00 6.93,11.98 10.16,11.84" fill="#fff"/></g><path d="M7.6,1.8 Q7.9,0 9,0 L13.6,0 Q14.7,0 15,1.8 Q11.3,2.9 7.6,1.8 Z" fill="#2b3344"/></g><g transform="translate(204.8 654.9)"><clipPath id="cc2"><path d="M0,6 L2,4.6 C1.8,1.6 3.8,0 5.8,0 C8.4,0 9.5,2 9.3,4.8 L9.2,7.4 Q6.4,8.3 3.6,7.3 L0.5,7 Z"/></clipPath><path d="M0,6 L2,4.6 C1.8,1.6 3.8,0 5.8,0 C8.4,0 9.5,2 9.3,4.8 L9.2,7.4 Q6.4,8.3 3.6,7.3 L0.5,7 Z" fill="#f4f4f4" stroke="#aaa" stroke-width="0.5"/><g clip-path="url(#cc2)"><circle cx="5.8" cy="1.2" r="2" fill="#5a2a92"/></g></g>
<rect x="163.3" y="691" width="68.6" height="19.6" rx="2" fill="#444444"/>
<text x="181.6" y="705.5" font-size="15" font-weight="normal" font-style="normal" fill="#ffffff" textLength="32.0" lengthAdjust="spacingAndGlyphs">37.5</text>
</g>
<rect x="161" y="637" width="73" height="76" fill="#000" opacity="0.055"/>
<rect x="161" y="616" width="73" height="21" fill="#fff" opacity="0.03"/>
<rect x="161.5" y="616.5" width="72" height="96" rx="2.2" fill="none" stroke="#9e9e9e" stroke-width="1"/>
<g opacity="0.5">
<rect x="238" y="616" width="73" height="97" rx="2.5" fill="#ffffff"/>
<rect x="238" y="637" width="73" height="6" fill="url(#shd)"/>
<rect x="284.6" y="617.8" width="25" height="17.6" rx="2" fill="none" stroke="#000" stroke-width="1.1"/>
<text x="286.9" y="632.4" font-size="16.5" font-weight="normal" font-style="normal" fill="#000" textLength="20.8" lengthAdjust="spacingAndGlyphs" stroke="#000" stroke-width="0.3">30</text>
<text transform="translate(240.6 630.2) scale(1.08 1)" font-size="11.8" font-weight="normal" font-style="normal" fill="#000" text-anchor="start" stroke="#000" stroke-width="0.35">5.8</text>
<g transform="translate(259.1 652.7)"><clipPath id="ct3"><path d="M4.9,4 L7.2,1.6 L8,0.8 L14.6,0.8 L15.4,1.6 L17.7,4 L17.4,14 L16.8,24.8 Q11.3,25.7 5.8,24.8 L5.2,14 Z"/></clipPath><clipPath id="cs3"><path d="M5.8,2.8 C2.2,3.8 0.3,8 0,14.5 C0.1,19 1.2,23 2.8,25.4 L5.9,24.9 L5.1,15 L4.6,13.6 L5,5 Z"/><path d="M16.8,2.8 C20.4,3.8 22.3,8 22.6,14.5 C22.5,19 21.4,23 19.8,25.4 L16.7,24.9 L17.5,15 L18,13.6 L17.6,5 Z"/></clipPath><path d="M5.8,2.8 C2.2,3.8 0.3,8 0,14.5 C0.1,19 1.2,23 2.8,25.4 L5.9,24.9 L5.1,15 L4.6,13.6 L5,5 Z" fill="#d4308c"/><path d="M16.8,2.8 C20.4,3.8 22.3,8 22.6,14.5 C22.5,19 21.4,23 19.8,25.4 L16.7,24.9 L17.5,15 L18,13.6 L17.6,5 Z" fill="#d4308c"/><g clip-path="url(#cs3)"><rect x="-1" y="12.6" width="7" height="3.4" fill="#34a834"/><rect x="16.6" y="12.6" width="7" height="3.4" fill="#34a834"/></g><path d="M4.9,4 L7.2,1.6 L8,0.8 L14.6,0.8 L15.4,1.6 L17.7,4 L17.4,14 L16.8,24.8 Q11.3,25.7 5.8,24.8 L5.2,14 Z" fill="#d4308c"/><g clip-path="url(#ct3)"><polygon points="5.2,3.6 8,1 9.6,6.4 7,8.2" fill="#34a834"/><polygon points="17.4,3.6 14.6,1 13,6.4 15.6,8.2" fill="#34a834"/></g><path d="M7.6,1.8 Q7.9,0 9,0 L13.6,0 Q14.7,0 15,1.8 Q11.3,2.9 7.6,1.8 Z" fill="#2b3344"/></g><g transform="translate(281.8 654.9)"><clipPath id="cc3"><path d="M0,6 L2,4.6 C1.8,1.6 3.8,0 5.8,0 C8.4,0 9.5,2 9.3,4.8 L9.2,7.4 Q6.4,8.3 3.6,7.3 L0.5,7 Z"/></clipPath><path d="M0,6 L2,4.6 C1.8,1.6 3.8,0 5.8,0 C8.4,0 9.5,2 9.3,4.8 L9.2,7.4 Q6.4,8.3 3.6,7.3 L0.5,7 Z" fill="#d4308c"/><g clip-path="url(#cc3)"><path d="M0,3.4 Q5,0.4 10,3.4" stroke="#34a834" stroke-width="1.5" fill="none"/><path d="M0,6.6 Q5,3.8 10,6.4" stroke="#34a834" stroke-width="1.3" fill="none"/></g></g>
<rect x="240.3" y="691" width="68.6" height="19.6" rx="2" fill="#444444"/>
<text x="258.6" y="705.5" font-size="15" font-weight="normal" font-style="normal" fill="#ffffff" textLength="32.0" lengthAdjust="spacingAndGlyphs">36.5</text>
</g>
<rect x="238" y="637" width="73" height="76" fill="#000" opacity="0.055"/>
<rect x="238" y="616" width="73" height="21" fill="#fff" opacity="0.03"/>
<rect x="238.5" y="616.5" width="72" height="96" rx="2.2" fill="none" stroke="#9e9e9e" stroke-width="1"/>
<g opacity="0.5">
<rect x="315" y="616" width="73" height="97" rx="2.5" fill="#ffffff"/>
<rect x="315" y="637" width="73" height="6" fill="url(#shd)"/>
<rect x="361.6" y="617.8" width="25" height="17.6" rx="2" fill="#a8a400" stroke="#000" stroke-width="1.1"/>
<text x="363.9" y="632.4" font-size="16.5" font-weight="normal" font-style="normal" fill="#fff" textLength="20.8" lengthAdjust="spacingAndGlyphs" stroke="#fff" stroke-width="0.3">24</text>
<text transform="translate(317.6 630.2) scale(1.08 1)" font-size="11.8" font-weight="normal" font-style="normal" fill="#000" text-anchor="start" stroke="#000" stroke-width="0.35">5.2</text>
<g transform="translate(336.1 652.7)"><clipPath id="ct4"><path d="M4.9,4 L7.2,1.6 L8,0.8 L14.6,0.8 L15.4,1.6 L17.7,4 L17.4,14 L16.8,24.8 Q11.3,25.7 5.8,24.8 L5.2,14 Z"/></clipPath><clipPath id="cs4"><path d="M5.8,2.8 C2.2,3.8 0.3,8 0,14.5 C0.1,19 1.2,23 2.8,25.4 L5.9,24.9 L5.1,15 L4.6,13.6 L5,5 Z"/><path d="M16.8,2.8 C20.4,3.8 22.3,8 22.6,14.5 C22.5,19 21.4,23 19.8,25.4 L16.7,24.9 L17.5,15 L18,13.6 L17.6,5 Z"/></clipPath><path d="M5.8,2.8 C2.2,3.8 0.3,8 0,14.5 C0.1,19 1.2,23 2.8,25.4 L5.9,24.9 L5.1,15 L4.6,13.6 L5,5 Z" fill="#189860"/><path d="M16.8,2.8 C20.4,3.8 22.3,8 22.6,14.5 C22.5,19 21.4,23 19.8,25.4 L16.7,24.9 L17.5,15 L18,13.6 L17.6,5 Z" fill="#189860"/><path d="M4.9,4 L7.2,1.6 L8,0.8 L14.6,0.8 L15.4,1.6 L17.7,4 L17.4,14 L16.8,24.8 Q11.3,25.7 5.8,24.8 L5.2,14 Z" fill="#d4e88c"/><g clip-path="url(#ct4)"><polygon points="11.30,9.00 12.44,12.04 15.67,12.18 13.14,14.20 14.00,17.32 11.30,15.53 8.60,17.32 9.46,14.20 6.93,12.18 10.16,12.04" fill="#fff050"/></g><path d="M7.6,1.8 Q7.9,0 9,0 L13.6,0 Q14.7,0 15,1.8 Q11.3,2.9 7.6,1.8 Z" fill="#2b3344"/></g><g transform="translate(358.8 654.9)"><clipPath id="cc4"><path d="M0,6 L2,4.6 C1.8,1.6 3.8,0 5.8,0 C8.4,0 9.5,2 9.3,4.8 L9.2,7.4 Q6.4,8.3 3.6,7.3 L0.5,7 Z"/></clipPath><path d="M0,6 L2,4.6 C1.8,1.6 3.8,0 5.8,0 C8.4,0 9.5,2 9.3,4.8 L9.2,7.4 Q6.4,8.3 3.6,7.3 L0.5,7 Z" fill="#fff050"/></g>
<rect x="317.3" y="691" width="68.6" height="19.6" rx="2" fill="#444444"/>
<text x="335.6" y="705.5" font-size="15" font-weight="normal" font-style="normal" fill="#ffffff" textLength="32.0" lengthAdjust="spacingAndGlyphs">36.0</text>
</g>
<rect x="315" y="637" width="73" height="76" fill="#000" opacity="0.055"/>
<rect x="315" y="616" width="73" height="21" fill="#fff" opacity="0.03"/>
<rect x="315.5" y="616.5" width="72" height="96" rx="2.2" fill="none" stroke="#9e9e9e" stroke-width="1"/>
<g opacity="0.5">
<rect x="392" y="616" width="73" height="97" rx="2.5" fill="#ffffff"/>
<rect x="392" y="637" width="73" height="6" fill="url(#shd)"/>
<rect x="438.6" y="617.8" width="25" height="17.6" rx="2" fill="none" stroke="#000" stroke-width="1.1"/>
<text x="440.9" y="632.4" font-size="16.5" font-weight="normal" font-style="normal" fill="#000" textLength="20.8" lengthAdjust="spacingAndGlyphs" stroke="#000" stroke-width="0.3">26</text>
<text transform="translate(394.6 630.2) scale(1.08 1)" font-size="11.8" font-weight="normal" font-style="normal" fill="#000" text-anchor="start" stroke="#000" stroke-width="0.35">4.5</text>
<g transform="translate(413.1 652.7)"><clipPath id="ct5"><path d="M4.9,4 L7.2,1.6 L8,0.8 L14.6,0.8 L15.4,1.6 L17.7,4 L17.4,14 L16.8,24.8 Q11.3,25.7 5.8,24.8 L5.2,14 Z"/></clipPath><clipPath id="cs5"><path d="M5.8,2.8 C2.2,3.8 0.3,8 0,14.5 C0.1,19 1.2,23 2.8,25.4 L5.9,24.9 L5.1,15 L4.6,13.6 L5,5 Z"/><path d="M16.8,2.8 C20.4,3.8 22.3,8 22.6,14.5 C22.5,19 21.4,23 19.8,25.4 L16.7,24.9 L17.5,15 L18,13.6 L17.6,5 Z"/></clipPath><path d="M5.8,2.8 C2.2,3.8 0.3,8 0,14.5 C0.1,19 1.2,23 2.8,25.4 L5.9,24.9 L5.1,15 L4.6,13.6 L5,5 Z" fill="#e0e3e7" stroke="#8e949a" stroke-width="0.5"/><path d="M16.8,2.8 C20.4,3.8 22.3,8 22.6,14.5 C22.5,19 21.4,23 19.8,25.4 L16.7,24.9 L17.5,15 L18,13.6 L17.6,5 Z" fill="#e0e3e7" stroke="#8e949a" stroke-width="0.5"/><path d="M4.9,4 L7.2,1.6 L8,0.8 L14.6,0.8 L15.4,1.6 L17.7,4 L17.4,14 L16.8,24.8 Q11.3,25.7 5.8,24.8 L5.2,14 Z" fill="#dcdfe3" stroke="#8e949a" stroke-width="0.5"/><path d="M7.6,1.8 Q7.9,0 9,0 L13.6,0 Q14.7,0 15,1.8 Q11.3,2.9 7.6,1.8 Z" fill="#9aa2a8"/></g><g transform="translate(435.8 654.9)"><clipPath id="cc5"><path d="M0,6 L2,4.6 C1.8,1.6 3.8,0 5.8,0 C8.4,0 9.5,2 9.3,4.8 L9.2,7.4 Q6.4,8.3 3.6,7.3 L0.5,7 Z"/></clipPath><path d="M0,6 L2,4.6 C1.8,1.6 3.8,0 5.8,0 C8.4,0 9.5,2 9.3,4.8 L9.2,7.4 Q6.4,8.3 3.6,7.3 L0.5,7 Z" fill="#e6e9ec" stroke="#8e949a" stroke-width="0.5"/></g>
<rect x="394.3" y="691" width="68.6" height="19.6" rx="2" fill="#444444"/>
<text x="412.6" y="705.5" font-size="15" font-weight="normal" font-style="normal" fill="#ffffff" textLength="32.0" lengthAdjust="spacingAndGlyphs">37.0</text>
</g>
<rect x="392" y="637" width="73" height="76" fill="#000" opacity="0.055"/>
<rect x="392" y="616" width="73" height="21" fill="#fff" opacity="0.03"/>
<rect x="392.5" y="616.5" width="72" height="96" rx="2.2" fill="none" stroke="#9e9e9e" stroke-width="1"/>
<g opacity="0.5">
<rect x="469" y="616" width="73" height="97" rx="2.5" fill="#ffffff"/>
<rect x="469" y="637" width="73" height="6" fill="url(#shd)"/>
<rect x="515.6" y="617.8" width="25" height="17.6" rx="2" fill="#e010e0" stroke="#000" stroke-width="1.1"/>
<text x="517.9" y="632.4" font-size="16.5" font-weight="normal" font-style="normal" fill="#f8f000" textLength="20.8" lengthAdjust="spacingAndGlyphs" stroke="#f8f000" stroke-width="0.3">20</text>
<text transform="translate(471.6 630.2) scale(1.08 1)" font-size="11.8" font-weight="normal" font-style="normal" fill="#000" text-anchor="start" stroke="#000" stroke-width="0.35">4.4</text>
<g transform="translate(490.1 652.7)"><clipPath id="ct6"><path d="M4.9,4 L7.2,1.6 L8,0.8 L14.6,0.8 L15.4,1.6 L17.7,4 L17.4,14 L16.8,24.8 Q11.3,25.7 5.8,24.8 L5.2,14 Z"/></clipPath><clipPath id="cs6"><path d="M5.8,2.8 C2.2,3.8 0.3,8 0,14.5 C0.1,19 1.2,23 2.8,25.4 L5.9,24.9 L5.1,15 L4.6,13.6 L5,5 Z"/><path d="M16.8,2.8 C20.4,3.8 22.3,8 22.6,14.5 C22.5,19 21.4,23 19.8,25.4 L16.7,24.9 L17.5,15 L18,13.6 L17.6,5 Z"/></clipPath><path d="M5.8,2.8 C2.2,3.8 0.3,8 0,14.5 C0.1,19 1.2,23 2.8,25.4 L5.9,24.9 L5.1,15 L4.6,13.6 L5,5 Z" fill="#f4c0c8" stroke="#c09aa0" stroke-width="0.5"/><path d="M16.8,2.8 C20.4,3.8 22.3,8 22.6,14.5 C22.5,19 21.4,23 19.8,25.4 L16.7,24.9 L17.5,15 L18,13.6 L17.6,5 Z" fill="#f4c0c8" stroke="#c09aa0" stroke-width="0.5"/><g clip-path="url(#cs6)"><rect x="-1" y="15.4" width="7.4" height="12" fill="#20a848"/><rect x="16.2" y="15.4" width="7.4" height="12" fill="#20a848"/></g><path d="M4.9,4 L7.2,1.6 L8,0.8 L14.6,0.8 L15.4,1.6 L17.7,4 L17.4,14 L16.8,24.8 Q11.3,25.7 5.8,24.8 L5.2,14 Z" fill="#f4c0c8" stroke="#c09aa0" stroke-width="0.5"/><g clip-path="url(#ct6)"><polygon points="5.6,1.6 8.6,1.6 11.3,15.6 14,1.6 17,1.6 11.3,20.6" fill="#20a848"/></g><path d="M7.6,1.8 Q7.9,0 9,0 L13.6,0 Q14.7,0 15,1.8 Q11.3,2.9 7.6,1.8 Z" fill="#2b3344"/></g><g transform="translate(512.8 654.9)"><clipPath id="cc6"><path d="M0,6 L2,4.6 C1.8,1.6 3.8,0 5.8,0 C8.4,0 9.5,2 9.3,4.8 L9.2,7.4 Q6.4,8.3 3.6,7.3 L0.5,7 Z"/></clipPath><path d="M0,6 L2,4.6 C1.8,1.6 3.8,0 5.8,0 C8.4,0 9.5,2 9.3,4.8 L9.2,7.4 Q6.4,8.3 3.6,7.3 L0.5,7 Z" fill="#f4c0c8" stroke="#c09aa0" stroke-width="0.5"/><g clip-path="url(#cc6)"><path d="M2.2,0 L5.4,-0.5 L5.8,9 L2,9Z" fill="#20a848"/><path d="M7.8,0.4 L10,2 L10,9 L8.2,9Z" fill="#20a848"/></g></g>
<rect x="471.3" y="691" width="68.6" height="19.6" rx="2" fill="#444444"/>
<text x="489.6" y="705.5" font-size="15" font-weight="normal" font-style="normal" fill="#ffffff" textLength="32.0" lengthAdjust="spacingAndGlyphs">36.5</text>
</g>
<rect x="469" y="637" width="73" height="76" fill="#000" opacity="0.055"/>
<rect x="469" y="616" width="73" height="21" fill="#fff" opacity="0.03"/>
<rect x="469.5" y="616.5" width="72" height="96" rx="2.2" fill="none" stroke="#9e9e9e" stroke-width="1"/>
<g opacity="0.5">
<rect x="546" y="616" width="73" height="97" rx="2.5" fill="#ffffff"/>
<rect x="546" y="637" width="73" height="6" fill="url(#shd)"/>
<rect x="592.6" y="617.8" width="25" height="17.6" rx="2" fill="#ff0808" stroke="#000" stroke-width="1.1"/>
<text x="594.9" y="632.4" font-size="16.5" font-weight="normal" font-style="normal" fill="#fff" textLength="20.8" lengthAdjust="spacingAndGlyphs" stroke="#fff" stroke-width="0.3">01</text>
<text transform="translate(548.6 630.2) scale(1.08 1)" font-size="11.8" font-weight="normal" font-style="normal" fill="#000" text-anchor="start" stroke="#000" stroke-width="0.35">4.2</text>
<g transform="translate(567.1 652.7)"><clipPath id="ct7"><path d="M4.9,4 L7.2,1.6 L8,0.8 L14.6,0.8 L15.4,1.6 L17.7,4 L17.4,14 L16.8,24.8 Q11.3,25.7 5.8,24.8 L5.2,14 Z"/></clipPath><clipPath id="cs7"><path d="M5.8,2.8 C2.2,3.8 0.3,8 0,14.5 C0.1,19 1.2,23 2.8,25.4 L5.9,24.9 L5.1,15 L4.6,13.6 L5,5 Z"/><path d="M16.8,2.8 C20.4,3.8 22.3,8 22.6,14.5 C22.5,19 21.4,23 19.8,25.4 L16.7,24.9 L17.5,15 L18,13.6 L17.6,5 Z"/></clipPath><path d="M5.8,2.8 C2.2,3.8 0.3,8 0,14.5 C0.1,19 1.2,23 2.8,25.4 L5.9,24.9 L5.1,15 L4.6,13.6 L5,5 Z" fill="#d2ea96" stroke="#9aac66" stroke-width="0.5"/><path d="M16.8,2.8 C20.4,3.8 22.3,8 22.6,14.5 C22.5,19 21.4,23 19.8,25.4 L16.7,24.9 L17.5,15 L18,13.6 L17.6,5 Z" fill="#d2ea96" stroke="#9aac66" stroke-width="0.5"/><path d="M4.9,4 L7.2,1.6 L8,0.8 L14.6,0.8 L15.4,1.6 L17.7,4 L17.4,14 L16.8,24.8 Q11.3,25.7 5.8,24.8 L5.2,14 Z" fill="#d2ea96" stroke="#9aac66" stroke-width="0.5"/><g clip-path="url(#ct7)"><polygon points="5.2,3.6 8,1 9.6,6.4 7,8.2" fill="#1878c0"/><polygon points="17.4,3.6 14.6,1 13,6.4 15.6,8.2" fill="#1878c0"/></g><path d="M7.6,1.8 Q7.9,0 9,0 L13.6,0 Q14.7,0 15,1.8 Q11.3,2.9 7.6,1.8 Z" fill="#2b3344"/></g><g transform="translate(589.8 654.9)"><clipPath id="cc7"><path d="M0,6 L2,4.6 C1.8,1.6 3.8,0 5.8,0 C8.4,0 9.5,2 9.3,4.8 L9.2,7.4 Q6.4,8.3 3.6,7.3 L0.5,7 Z"/></clipPath><path d="M0,6 L2,4.6 C1.8,1.6 3.8,0 5.8,0 C8.4,0 9.5,2 9.3,4.8 L9.2,7.4 Q6.4,8.3 3.6,7.3 L0.5,7 Z" fill="#1878c0" stroke="#9aac66" stroke-width="0.5"/></g>
<rect x="548.3" y="691" width="68.6" height="19.6" rx="2" fill="#444444"/>
<text x="566.6" y="705.5" font-size="15" font-weight="normal" font-style="normal" fill="#ffffff" textLength="32.0" lengthAdjust="spacingAndGlyphs">34.5</text>
</g>
<rect x="546" y="637" width="73" height="76" fill="#000" opacity="0.055"/>
<rect x="546" y="616" width="73" height="21" fill="#fff" opacity="0.03"/>
<rect x="546.5" y="616.5" width="72" height="96" rx="2.2" fill="none" stroke="#9e9e9e" stroke-width="1"/>
<g opacity="0.5">
<rect x="623" y="616" width="73" height="97" rx="2.5" fill="#ffffff"/>
<rect x="623" y="637" width="73" height="6" fill="url(#shd)"/>
<rect x="669.6" y="617.8" width="25" height="17.6" rx="2" fill="#a83232" stroke="#000" stroke-width="1.1"/>
<text x="671.9" y="632.4" font-size="16.5" font-weight="normal" font-style="normal" fill="#fff" textLength="20.8" lengthAdjust="spacingAndGlyphs" stroke="#fff" stroke-width="0.3">13</text>
<text transform="translate(625.6 630.2) scale(1.08 1)" font-size="11.8" font-weight="normal" font-style="normal" fill="#000" text-anchor="start" stroke="#000" stroke-width="0.35">3.4</text>
<g transform="translate(644.1 652.7)"><clipPath id="ct8"><path d="M4.9,4 L7.2,1.6 L8,0.8 L14.6,0.8 L15.4,1.6 L17.7,4 L17.4,14 L16.8,24.8 Q11.3,25.7 5.8,24.8 L5.2,14 Z"/></clipPath><clipPath id="cs8"><path d="M5.8,2.8 C2.2,3.8 0.3,8 0,14.5 C0.1,19 1.2,23 2.8,25.4 L5.9,24.9 L5.1,15 L4.6,13.6 L5,5 Z"/><path d="M16.8,2.8 C20.4,3.8 22.3,8 22.6,14.5 C22.5,19 21.4,23 19.8,25.4 L16.7,24.9 L17.5,15 L18,13.6 L17.6,5 Z"/></clipPath><path d="M5.8,2.8 C2.2,3.8 0.3,8 0,14.5 C0.1,19 1.2,23 2.8,25.4 L5.9,24.9 L5.1,15 L4.6,13.6 L5,5 Z" fill="#64389c"/><path d="M16.8,2.8 C20.4,3.8 22.3,8 22.6,14.5 C22.5,19 21.4,23 19.8,25.4 L16.7,24.9 L17.5,15 L18,13.6 L17.6,5 Z" fill="#64389c"/><path d="M4.9,4 L7.2,1.6 L8,0.8 L14.6,0.8 L15.4,1.6 L17.7,4 L17.4,14 L16.8,24.8 Q11.3,25.7 5.8,24.8 L5.2,14 Z" fill="#64389c"/><g clip-path="url(#ct8)"><rect x="5.0" y="1.0" width="2.55" height="3.1" fill="#f4f0f8"/><rect x="10.1" y="1.0" width="2.55" height="3.1" fill="#f4f0f8"/><rect x="15.2" y="1.0" width="2.55" height="3.1" fill="#f4f0f8"/><rect x="7.55" y="4.1" width="2.55" height="3.1" fill="#f4f0f8"/><rect x="12.649999999999999" y="4.1" width="2.55" height="3.1" fill="#f4f0f8"/><rect x="5.0" y="7.2" width="2.55" height="3.1" fill="#f4f0f8"/><rect x="10.1" y="7.2" width="2.55" height="3.1" fill="#f4f0f8"/><rect x="15.2" y="7.2" width="2.55" height="3.1" fill="#f4f0f8"/><rect x="7.55" y="10.3" width="2.55" height="3.1" fill="#f4f0f8"/><rect x="12.649999999999999" y="10.3" width="2.55" height="3.1" fill="#f4f0f8"/><rect x="5.0" y="13.4" width="2.55" height="3.1" fill="#f4f0f8"/><rect x="10.1" y="13.4" width="2.55" height="3.1" fill="#f4f0f8"/><rect x="15.2" y="13.4" width="2.55" height="3.1" fill="#f4f0f8"/><rect x="7.55" y="16.5" width="2.55" height="3.1" fill="#f4f0f8"/><rect x="12.649999999999999" y="16.5" width="2.55" height="3.1" fill="#f4f0f8"/><rect x="5.0" y="19.6" width="2.55" height="3.1" fill="#f4f0f8"/><rect x="10.1" y="19.6" width="2.55" height="3.1" fill="#f4f0f8"/><rect x="15.2" y="19.6" width="2.55" height="3.1" fill="#f4f0f8"/><rect x="7.55" y="22.7" width="2.55" height="3.1" fill="#f4f0f8"/><rect x="12.649999999999999" y="22.7" width="2.55" height="3.1" fill="#f4f0f8"/></g><path d="M7.6,1.8 Q7.9,0 9,0 L13.6,0 Q14.7,0 15,1.8 Q11.3,2.9 7.6,1.8 Z" fill="#2b3344"/></g><g transform="translate(666.8 654.9)"><clipPath id="cc8"><path d="M0,6 L2,4.6 C1.8,1.6 3.8,0 5.8,0 C8.4,0 9.5,2 9.3,4.8 L9.2,7.4 Q6.4,8.3 3.6,7.3 L0.5,7 Z"/></clipPath><path d="M0,6 L2,4.6 C1.8,1.6 3.8,0 5.8,0 C8.4,0 9.5,2 9.3,4.8 L9.2,7.4 Q6.4,8.3 3.6,7.3 L0.5,7 Z" fill="#d8cce8"/><g clip-path="url(#cc8)"><rect x="0" y="1.4" width="10" height="1.4" fill="#5a3888"/><rect x="0" y="4.2" width="10" height="1.4" fill="#5a3888"/><path d="M0,6 L2,4.6 C1.8,1.6 3.8,0 5.8,0 C8.4,0 9.5,2 9.3,4.8 L9.2,7.4 Q6.4,8.3 3.6,7.3 L0.5,7 Z" fill="none" stroke="#7a6898" stroke-width="0.6"/></g></g>
<rect x="625.3" y="691" width="68.6" height="19.6" rx="2" fill="#444444"/>
<text x="643.6" y="705.5" font-size="15" font-weight="normal" font-style="normal" fill="#ffffff" textLength="32.0" lengthAdjust="spacingAndGlyphs">37.0</text>
</g>
<rect x="623" y="637" width="73" height="76" fill="#000" opacity="0.055"/>
<rect x="623" y="616" width="73" height="21" fill="#fff" opacity="0.03"/>
<rect x="623.5" y="616.5" width="72" height="96" rx="2.2" fill="none" stroke="#9e9e9e" stroke-width="1"/>
<g>
<rect x="700" y="616" width="73" height="97" rx="2.5" fill="#ffffff"/>
<rect x="700" y="637" width="73" height="6" fill="url(#shd)"/>
<rect x="746.6" y="617.8" width="25" height="17.6" rx="2" fill="#ffc0cb" stroke="#000" stroke-width="1.1"/>
<text x="748.9" y="632.4" font-size="16.5" font-weight="normal" font-style="normal" fill="#000" textLength="20.8" lengthAdjust="spacingAndGlyphs" stroke="#000" stroke-width="0.3">08</text>
<text transform="translate(702.6 630.2) scale(1.08 1)" font-size="11.8" font-weight="normal" font-style="normal" fill="#000" text-anchor="start" stroke="#000" stroke-width="0.35">3.3</text>
<g transform="translate(721.1 652.7)"><clipPath id="ct9"><path d="M4.9,4 L7.2,1.6 L8,0.8 L14.6,0.8 L15.4,1.6 L17.7,4 L17.4,14 L16.8,24.8 Q11.3,25.7 5.8,24.8 L5.2,14 Z"/></clipPath><clipPath id="cs9"><path d="M5.8,2.8 C2.2,3.8 0.3,8 0,14.5 C0.1,19 1.2,23 2.8,25.4 L5.9,24.9 L5.1,15 L4.6,13.6 L5,5 Z"/><path d="M16.8,2.8 C20.4,3.8 22.3,8 22.6,14.5 C22.5,19 21.4,23 19.8,25.4 L16.7,24.9 L17.5,15 L18,13.6 L17.6,5 Z"/></clipPath><path d="M5.8,2.8 C2.2,3.8 0.3,8 0,14.5 C0.1,19 1.2,23 2.8,25.4 L5.9,24.9 L5.1,15 L4.6,13.6 L5,5 Z" fill="#c81838"/><path d="M16.8,2.8 C20.4,3.8 22.3,8 22.6,14.5 C22.5,19 21.4,23 19.8,25.4 L16.7,24.9 L17.5,15 L18,13.6 L17.6,5 Z" fill="#c81838"/><path d="M4.9,4 L7.2,1.6 L8,0.8 L14.6,0.8 L15.4,1.6 L17.7,4 L17.4,14 L16.8,24.8 Q11.3,25.7 5.8,24.8 L5.2,14 Z" fill="#c81838"/><g clip-path="url(#ct9)"><rect x="4" y="6.4" width="15" height="3.3" fill="#f8e838"/><rect x="4" y="12" width="15" height="3.3" fill="#f8e838"/><rect x="4" y="17.6" width="15" height="3.3" fill="#f8e838"/></g><path d="M7.6,1.8 Q7.9,0 9,0 L13.6,0 Q14.7,0 15,1.8 Q11.3,2.9 7.6,1.8 Z" fill="#2b2f4c"/></g><g transform="translate(743.8 654.9)"><clipPath id="cc9"><path d="M0,6 L2,4.6 C1.8,1.6 3.8,0 5.8,0 C8.4,0 9.5,2 9.3,4.8 L9.2,7.4 Q6.4,8.3 3.6,7.3 L0.5,7 Z"/></clipPath><path d="M0,6 L2,4.6 C1.8,1.6 3.8,0 5.8,0 C8.4,0 9.5,2 9.3,4.8 L9.2,7.4 Q6.4,8.3 3.6,7.3 L0.5,7 Z" fill="#f8f048"/></g>
<rect x="702.3" y="691" width="68.6" height="19.6" rx="2" fill="#444444"/>
<text x="720.6" y="705.5" font-size="15" font-weight="normal" font-style="normal" fill="#ffffff" textLength="32.0" lengthAdjust="spacingAndGlyphs">36.5</text>
</g>
<g opacity="0.5">
<rect x="777" y="616" width="73" height="97" rx="2.5" fill="#ffffff"/>
<rect x="777" y="637" width="73" height="6" fill="url(#shd)"/>
<rect x="823.6" y="617.8" width="25" height="17.6" rx="2" fill="#1c4470" stroke="#000" stroke-width="1.1"/>
<text x="825.9" y="632.4" font-size="16.5" font-weight="normal" font-style="normal" fill="#fff" textLength="20.8" lengthAdjust="spacingAndGlyphs" stroke="#fff" stroke-width="0.3">22</text>
<text transform="translate(779.6 630.2) scale(1.08 1)" font-size="11.8" font-weight="normal" font-style="normal" fill="#000" text-anchor="start" stroke="#000" stroke-width="0.35">3.1</text>
<g transform="translate(798.1 652.7)"><clipPath id="ct10"><path d="M4.9,4 L7.2,1.6 L8,0.8 L14.6,0.8 L15.4,1.6 L17.7,4 L17.4,14 L16.8,24.8 Q11.3,25.7 5.8,24.8 L5.2,14 Z"/></clipPath><clipPath id="cs10"><path d="M5.8,2.8 C2.2,3.8 0.3,8 0,14.5 C0.1,19 1.2,23 2.8,25.4 L5.9,24.9 L5.1,15 L4.6,13.6 L5,5 Z"/><path d="M16.8,2.8 C20.4,3.8 22.3,8 22.6,14.5 C22.5,19 21.4,23 19.8,25.4 L16.7,24.9 L17.5,15 L18,13.6 L17.6,5 Z"/></clipPath><path d="M5.8,2.8 C2.2,3.8 0.3,8 0,14.5 C0.1,19 1.2,23 2.8,25.4 L5.9,24.9 L5.1,15 L4.6,13.6 L5,5 Z" fill="#f8e838" stroke="#b0a030" stroke-width="0.5"/><path d="M16.8,2.8 C20.4,3.8 22.3,8 22.6,14.5 C22.5,19 21.4,23 19.8,25.4 L16.7,24.9 L17.5,15 L18,13.6 L17.6,5 Z" fill="#f8e838" stroke="#b0a030" stroke-width="0.5"/><path d="M4.9,4 L7.2,1.6 L8,0.8 L14.6,0.8 L15.4,1.6 L17.7,4 L17.4,14 L16.8,24.8 Q11.3,25.7 5.8,24.8 L5.2,14 Z" fill="#f8e838" stroke="#b0a030" stroke-width="0.5"/><g clip-path="url(#ct10)"><polygon points="4.6,0 18,0 11.3,13.2" fill="#2858a8"/><polygon points="4.6,26 18,26 11.3,13.2" fill="#2858a8"/></g><path d="M7.6,1.8 Q7.9,0 9,0 L13.6,0 Q14.7,0 15,1.8 Q11.3,2.9 7.6,1.8 Z" fill="#1e4890"/></g><g transform="translate(820.8 654.9)"><clipPath id="cc10"><path d="M0,6 L2,4.6 C1.8,1.6 3.8,0 5.8,0 C8.4,0 9.5,2 9.3,4.8 L9.2,7.4 Q6.4,8.3 3.6,7.3 L0.5,7 Z"/></clipPath><path d="M0,6 L2,4.6 C1.8,1.6 3.8,0 5.8,0 C8.4,0 9.5,2 9.3,4.8 L9.2,7.4 Q6.4,8.3 3.6,7.3 L0.5,7 Z" fill="#2858a8" stroke="#b0a030" stroke-width="0.5"/></g>
<rect x="779.3" y="691" width="68.6" height="19.6" rx="2" fill="#444444"/>
<text x="797.6" y="705.5" font-size="15" font-weight="normal" font-style="normal" fill="#ffffff" textLength="32.0" lengthAdjust="spacingAndGlyphs">35.5</text>
</g>
<rect x="777" y="637" width="73" height="76" fill="#000" opacity="0.055"/>
<rect x="777" y="616" width="73" height="21" fill="#fff" opacity="0.03"/>
<rect x="777.5" y="616.5" width="72" height="96" rx="2.2" fill="none" stroke="#9e9e9e" stroke-width="1"/>
<g>
<rect x="854" y="616" width="73" height="97" rx="2.5" fill="#ffffff"/>
<rect x="854" y="637" width="73" height="6" fill="url(#shd)"/>
<rect x="900.6" y="617.8" width="25" height="17.6" rx="2" fill="#40e0d0" stroke="#000" stroke-width="1.1"/>
<text x="902.9" y="632.4" font-size="16.5" font-weight="normal" font-style="normal" fill="#000" textLength="20.8" lengthAdjust="spacingAndGlyphs" stroke="#000" stroke-width="0.3">09</text>
<text transform="translate(856.6 630.2) scale(1.08 1)" font-size="11.8" font-weight="normal" font-style="normal" fill="#000" text-anchor="start" stroke="#000" stroke-width="0.35">2.7</text>
<g transform="translate(875.1 652.7)"><clipPath id="ct11"><path d="M4.9,4 L7.2,1.6 L8,0.8 L14.6,0.8 L15.4,1.6 L17.7,4 L17.4,14 L16.8,24.8 Q11.3,25.7 5.8,24.8 L5.2,14 Z"/></clipPath><clipPath id="cs11"><path d="M5.8,2.8 C2.2,3.8 0.3,8 0,14.5 C0.1,19 1.2,23 2.8,25.4 L5.9,24.9 L5.1,15 L4.6,13.6 L5,5 Z"/><path d="M16.8,2.8 C20.4,3.8 22.3,8 22.6,14.5 C22.5,19 21.4,23 19.8,25.4 L16.7,24.9 L17.5,15 L18,13.6 L17.6,5 Z"/></clipPath><path d="M5.8,2.8 C2.2,3.8 0.3,8 0,14.5 C0.1,19 1.2,23 2.8,25.4 L5.9,24.9 L5.1,15 L4.6,13.6 L5,5 Z" fill="#ffffff" stroke="#b4b4bc" stroke-width="0.5"/><path d="M16.8,2.8 C20.4,3.8 22.3,8 22.6,14.5 C22.5,19 21.4,23 19.8,25.4 L16.7,24.9 L17.5,15 L18,13.6 L17.6,5 Z" fill="#ffffff" stroke="#b4b4bc" stroke-width="0.5"/><path d="M4.9,4 L7.2,1.6 L8,0.8 L14.6,0.8 L15.4,1.6 L17.7,4 L17.4,14 L16.8,24.8 Q11.3,25.7 5.8,24.8 L5.2,14 Z" fill="#141e6e" stroke="#b4b4bc" stroke-width="0.5"/><g clip-path="url(#ct11)"><rect x="4" y="5.6" width="15" height="3.3" fill="#f8b810"/><rect x="4" y="11.6" width="15" height="3.3" fill="#f8b810"/><rect x="4" y="17.4" width="15" height="3.3" fill="#f8b810"/></g><path d="M7.6,1.8 Q7.9,0 9,0 L13.6,0 Q14.7,0 15,1.8 Q11.3,2.9 7.6,1.8 Z" fill="#141e4e"/></g><g transform="translate(897.8 654.9)"><clipPath id="cc11"><path d="M0,6 L2,4.6 C1.8,1.6 3.8,0 5.8,0 C8.4,0 9.5,2 9.3,4.8 L9.2,7.4 Q6.4,8.3 3.6,7.3 L0.5,7 Z"/></clipPath><path d="M0,6 L2,4.6 C1.8,1.6 3.8,0 5.8,0 C8.4,0 9.5,2 9.3,4.8 L9.2,7.4 Q6.4,8.3 3.6,7.3 L0.5,7 Z" fill="#ffffff" stroke="#b4b4bc" stroke-width="0.5"/></g>
<rect x="856.3" y="691" width="68.6" height="19.6" rx="2" fill="#444444"/>
<text x="874.6" y="705.5" font-size="15" font-weight="normal" font-style="normal" fill="#ffffff" textLength="32.0" lengthAdjust="spacingAndGlyphs">36.0</text>
</g>
<g opacity="0.5">
<rect x="931" y="616" width="73" height="97" rx="2.5" fill="#ffffff"/>
<rect x="931" y="637" width="73" height="6" fill="url(#shd)"/>
<rect x="977.6" y="617.8" width="25" height="17.6" rx="2" fill="#40508c" stroke="#000" stroke-width="1.1"/>
<text x="979.9" y="632.4" font-size="16.5" font-weight="normal" font-style="normal" fill="#f01818" textLength="20.8" lengthAdjust="spacingAndGlyphs" stroke="#f01818" stroke-width="0.3">19</text>
<text transform="translate(933.6 630.2) scale(1.08 1)" font-size="11.8" font-weight="normal" font-style="normal" fill="#000" text-anchor="start" stroke="#000" stroke-width="0.35">2.1</text>
<g transform="translate(952.1 652.7)"><clipPath id="ct12"><path d="M4.9,4 L7.2,1.6 L8,0.8 L14.6,0.8 L15.4,1.6 L17.7,4 L17.4,14 L16.8,24.8 Q11.3,25.7 5.8,24.8 L5.2,14 Z"/></clipPath><clipPath id="cs12"><path d="M5.8,2.8 C2.2,3.8 0.3,8 0,14.5 C0.1,19 1.2,23 2.8,25.4 L5.9,24.9 L5.1,15 L4.6,13.6 L5,5 Z"/><path d="M16.8,2.8 C20.4,3.8 22.3,8 22.6,14.5 C22.5,19 21.4,23 19.8,25.4 L16.7,24.9 L17.5,15 L18,13.6 L17.6,5 Z"/></clipPath><path d="M5.8,2.8 C2.2,3.8 0.3,8 0,14.5 C0.1,19 1.2,23 2.8,25.4 L5.9,24.9 L5.1,15 L4.6,13.6 L5,5 Z" fill="#f4f4f4" stroke="#aaa" stroke-width="0.5"/><path d="M16.8,2.8 C20.4,3.8 22.3,8 22.6,14.5 C22.5,19 21.4,23 19.8,25.4 L16.7,24.9 L17.5,15 L18,13.6 L17.6,5 Z" fill="#f4f4f4" stroke="#aaa" stroke-width="0.5"/><g clip-path="url(#cs12)"><circle cx="3.4" cy="8" r="1.15" fill="#7a3aa8"/><circle cx="1.4" cy="13.5" r="1.15" fill="#7a3aa8"/><circle cx="3.8" cy="12.6" r="1.15" fill="#7a3aa8"/><circle cx="1.8" cy="19" r="1.15" fill="#7a3aa8"/><circle cx="4.2" cy="22" r="1.15" fill="#7a3aa8"/><circle cx="19.2" cy="8" r="1.15" fill="#7a3aa8"/><circle cx="21.2" cy="13.5" r="1.15" fill="#7a3aa8"/><circle cx="18.8" cy="12.6" r="1.15" fill="#7a3aa8"/><circle cx="20.8" cy="19" r="1.15" fill="#7a3aa8"/><circle cx="18.4" cy="22" r="1.15" fill="#7a3aa8"/></g><path d="M4.9,4 L7.2,1.6 L8,0.8 L14.6,0.8 L15.4,1.6 L17.7,4 L17.4,14 L16.8,24.8 Q11.3,25.7 5.8,24.8 L5.2,14 Z" fill="#c8a8e0" stroke="#aaa" stroke-width="0.5"/><g clip-path="url(#ct12)"><path d="M5.6,15.8 L7.4,6.6 L11.3,12.8 L15.2,6.6 L17,15.8 L14,12.6 L11.3,19.6 L8.6,12.6 Z" fill="#f0b810"/></g><path d="M7.6,1.8 Q7.9,0 9,0 L13.6,0 Q14.7,0 15,1.8 Q11.3,2.9 7.6,1.8 Z" fill="#2b3344"/></g><g transform="translate(974.8 654.9)"><clipPath id="cc12"><path d="M0,6 L2,4.6 C1.8,1.6 3.8,0 5.8,0 C8.4,0 9.5,2 9.3,4.8 L9.2,7.4 Q6.4,8.3 3.6,7.3 L0.5,7 Z"/></clipPath><path d="M0,6 L2,4.6 C1.8,1.6 3.8,0 5.8,0 C8.4,0 9.5,2 9.3,4.8 L9.2,7.4 Q6.4,8.3 3.6,7.3 L0.5,7 Z" fill="#f6f6f6" stroke="#aaa" stroke-width="0.5"/><g clip-path="url(#cc12)"><circle cx="5.8" cy="1.4" r="1.9" fill="#7a3aa8"/></g></g>
<rect x="933.3" y="691" width="68.6" height="19.6" rx="2" fill="#444444"/>
<text x="951.6" y="705.5" font-size="15" font-weight="normal" font-style="normal" fill="#ffffff" textLength="32.0" lengthAdjust="spacingAndGlyphs">38.5</text>
</g>
<rect x="931" y="637" width="73" height="76" fill="#000" opacity="0.055"/>
<rect x="931" y="616" width="73" height="21" fill="#fff" opacity="0.03"/>
<rect x="931.5" y="616.5" width="72" height="96" rx="2.2" fill="none" stroke="#9e9e9e" stroke-width="1"/>
<g opacity="0.5">
<rect x="1008" y="616" width="73" height="97" rx="2.5" fill="#ffffff"/>
<rect x="1008" y="637" width="73" height="6" fill="url(#shd)"/>
<rect x="1054.6" y="617.8" width="25" height="17.6" rx="2" fill="#a818a8" stroke="#000" stroke-width="1.1"/>
<text x="1056.9" y="632.4" font-size="16.5" font-weight="normal" font-style="normal" fill="#fff" textLength="20.8" lengthAdjust="spacingAndGlyphs" stroke="#fff" stroke-width="0.3">10</text>
<text transform="translate(1010.6 630.2) scale(1.08 1)" font-size="11.8" font-weight="normal" font-style="normal" fill="#000" text-anchor="start" stroke="#000" stroke-width="0.35">1.3</text>
<g transform="translate(1029.1 652.7)"><clipPath id="ct13"><path d="M4.9,4 L7.2,1.6 L8,0.8 L14.6,0.8 L15.4,1.6 L17.7,4 L17.4,14 L16.8,24.8 Q11.3,25.7 5.8,24.8 L5.2,14 Z"/></clipPath><clipPath id="cs13"><path d="M5.8,2.8 C2.2,3.8 0.3,8 0,14.5 C0.1,19 1.2,23 2.8,25.4 L5.9,24.9 L5.1,15 L4.6,13.6 L5,5 Z"/><path d="M16.8,2.8 C20.4,3.8 22.3,8 22.6,14.5 C22.5,19 21.4,23 19.8,25.4 L16.7,24.9 L17.5,15 L18,13.6 L17.6,5 Z"/></clipPath><path d="M5.8,2.8 C2.2,3.8 0.3,8 0,14.5 C0.1,19 1.2,23 2.8,25.4 L5.9,24.9 L5.1,15 L4.6,13.6 L5,5 Z" fill="#e8d838"/><path d="M16.8,2.8 C20.4,3.8 22.3,8 22.6,14.5 C22.5,19 21.4,23 19.8,25.4 L16.7,24.9 L17.5,15 L18,13.6 L17.6,5 Z" fill="#e8d838"/><g clip-path="url(#cs13)"><rect x="-1" y="14.2" width="8" height="12" fill="#1c2440"/><rect x="16" y="14.2" width="8" height="12" fill="#1c2440"/></g><path d="M4.9,4 L7.2,1.6 L8,0.8 L14.6,0.8 L15.4,1.6 L17.7,4 L17.4,14 L16.8,24.8 Q11.3,25.7 5.8,24.8 L5.2,14 Z" fill="#e8d838"/><g clip-path="url(#ct13)"><rect x="6.6" y="0" width="1.3" height="26" fill="#1c2440"/><rect x="9.2" y="0" width="1.3" height="26" fill="#1c2440"/><rect x="11.9" y="0" width="1.3" height="26" fill="#1c2440"/><rect x="14.6" y="0" width="1.3" height="26" fill="#1c2440"/></g><path d="M7.6,1.8 Q7.9,0 9,0 L13.6,0 Q14.7,0 15,1.8 Q11.3,2.9 7.6,1.8 Z" fill="#2b3344"/></g><g transform="translate(1051.8 654.9)"><clipPath id="cc13"><path d="M0,6 L2,4.6 C1.8,1.6 3.8,0 5.8,0 C8.4,0 9.5,2 9.3,4.8 L9.2,7.4 Q6.4,8.3 3.6,7.3 L0.5,7 Z"/></clipPath><path d="M0,6 L2,4.6 C1.8,1.6 3.8,0 5.8,0 C8.4,0 9.5,2 9.3,4.8 L9.2,7.4 Q6.4,8.3 3.6,7.3 L0.5,7 Z" fill="#e8d838"/><g clip-path="url(#cc13)"><path d="M-5.0,9 L1.0,-1" stroke="#1c2440" stroke-width="1.1"/><path d="M-2.2,9 L3.8,-1" stroke="#1c2440" stroke-width="1.1"/><path d="M0.5999999999999996,9 L6.6,-1" stroke="#1c2440" stroke-width="1.1"/><path d="M3.3999999999999986,9 L9.399999999999999,-1" stroke="#1c2440" stroke-width="1.1"/><path d="M6.199999999999999,9 L12.2,-1" stroke="#1c2440" stroke-width="1.1"/><path d="M9.0,9 L15.0,-1" stroke="#1c2440" stroke-width="1.1"/><path d="M11.799999999999997,9 L17.799999999999997,-1" stroke="#1c2440" stroke-width="1.1"/></g></g>
<rect x="1010.3" y="691" width="68.6" height="19.6" rx="2" fill="#444444"/>
<text x="1028.6" y="705.5" font-size="15" font-weight="normal" font-style="normal" fill="#ffffff" textLength="32.0" lengthAdjust="spacingAndGlyphs">37.0</text>
</g>
<rect x="1008" y="637" width="73" height="76" fill="#000" opacity="0.055"/>
<rect x="1008" y="616" width="73" height="21" fill="#fff" opacity="0.03"/>
<rect x="1008.5" y="616.5" width="72" height="96" rx="2.2" fill="none" stroke="#9e9e9e" stroke-width="1"/>
<g opacity="0.5">
<rect x="1085" y="616" width="73" height="97" rx="2.5" fill="#ffffff"/>
<rect x="1085" y="637" width="73" height="6" fill="url(#shd)"/>
<rect x="1131.6" y="617.8" width="25" height="17.6" rx="2" fill="#108c10" stroke="#000" stroke-width="1.1"/>
<text x="1133.9" y="632.4" font-size="16.5" font-weight="normal" font-style="normal" fill="#fff" textLength="20.8" lengthAdjust="spacingAndGlyphs" stroke="#fff" stroke-width="0.3">05</text>
<text transform="translate(1087.6 630.2) scale(1.08 1)" font-size="11.8" font-weight="normal" font-style="normal" fill="#000" text-anchor="start" stroke="#000" stroke-width="0.35">L</text>
<g transform="translate(1106.1 652.7)"><clipPath id="ct14"><path d="M4.9,4 L7.2,1.6 L8,0.8 L14.6,0.8 L15.4,1.6 L17.7,4 L17.4,14 L16.8,24.8 Q11.3,25.7 5.8,24.8 L5.2,14 Z"/></clipPath><clipPath id="cs14"><path d="M5.8,2.8 C2.2,3.8 0.3,8 0,14.5 C0.1,19 1.2,23 2.8,25.4 L5.9,24.9 L5.1,15 L4.6,13.6 L5,5 Z"/><path d="M16.8,2.8 C20.4,3.8 22.3,8 22.6,14.5 C22.5,19 21.4,23 19.8,25.4 L16.7,24.9 L17.5,15 L18,13.6 L17.6,5 Z"/></clipPath><path d="M5.8,2.8 C2.2,3.8 0.3,8 0,14.5 C0.1,19 1.2,23 2.8,25.4 L5.9,24.9 L5.1,15 L4.6,13.6 L5,5 Z" fill="#141c2c"/><path d="M16.8,2.8 C20.4,3.8 22.3,8 22.6,14.5 C22.5,19 21.4,23 19.8,25.4 L16.7,24.9 L17.5,15 L18,13.6 L17.6,5 Z" fill="#141c2c"/><path d="M4.9,4 L7.2,1.6 L8,0.8 L14.6,0.8 L15.4,1.6 L17.7,4 L17.4,14 L16.8,24.8 Q11.3,25.7 5.8,24.8 L5.2,14 Z" fill="#141c2c"/><g clip-path="url(#ct14)"><polygon points="5.2,3.6 8,1 9.6,6.4 7,8.2" fill="#e8d838"/><polygon points="17.4,3.6 14.6,1 13,6.4 15.6,8.2" fill="#e8d838"/></g><path d="M7.6,1.8 Q7.9,0 9,0 L13.6,0 Q14.7,0 15,1.8 Q11.3,2.9 7.6,1.8 Z" fill="#141c2c"/></g><g transform="translate(1128.8 654.9)"><clipPath id="cc14"><path d="M0,6 L2,4.6 C1.8,1.6 3.8,0 5.8,0 C8.4,0 9.5,2 9.3,4.8 L9.2,7.4 Q6.4,8.3 3.6,7.3 L0.5,7 Z"/></clipPath><path d="M0,6 L2,4.6 C1.8,1.6 3.8,0 5.8,0 C8.4,0 9.5,2 9.3,4.8 L9.2,7.4 Q6.4,8.3 3.6,7.3 L0.5,7 Z" fill="#e8d838"/><g clip-path="url(#cc14)"><path d="M3.8,-1 L7.8,-1 L6.8,2.6 L4.8,2.6Z" fill="#141c2c"/></g></g>
<rect x="1087.3" y="691" width="68.6" height="19.6" rx="2" fill="#444444"/>
<text x="1105.6" y="705.5" font-size="15" font-weight="normal" font-style="normal" fill="#ffffff" textLength="32.0" lengthAdjust="spacingAndGlyphs">35.0</text>
</g>
<rect x="1085" y="637" width="73" height="76" fill="#000" opacity="0.055"/>
<rect x="1085" y="616" width="73" height="21" fill="#fff" opacity="0.03"/>
<rect x="1085.5" y="616.5" width="72" height="96" rx="2.2" fill="none" stroke="#9e9e9e" stroke-width="1"/>
<rect x="1179.8" y="630" width="2.6" height="63" fill="#ffffff"/>
<circle cx="1181.1" cy="626" r="6.3" fill="#ffffff" stroke="#e0202a" stroke-width="1.4"/>
<text x="1163.9" y="707.1" font-size="13" font-weight="normal" font-style="normal" fill="#ffffff" textLength="14.2" lengthAdjust="spacingAndGlyphs">32</text>
<path transform="translate(1180.7 697.3)" d="M0.2,4.5 L1.7,2.3 L3.2,1.1 L4.7,2.8 L5.4,0.8 L7.3,0 L9.2,0.8 L10.3,2.8 L13.3,3.8 L16.3,5.4 L15.9,6.8 L14.4,5.8 L14.2,8.1 L13.1,11.6 L12,11.6 L12.4,8.8 L11.1,9.2 L10.3,11.4 L9.2,11.1 L9.7,8.6 L7.3,8.2 L6.2,10.3 L4.9,11.8 L3.9,11.1 L5.1,9.2 L4.3,8.4 L3.2,10.3 L2.4,9.6 L3.6,7.3 L3.2,5.6 L1.7,5.6 Z" fill="#f4f2f2"/>
<text x="1199.5" y="650.6" font-size="31" font-weight="normal" font-style="normal" fill="#ff6600" textLength="71.5" lengthAdjust="spacingAndGlyphs" stroke="#ff6600" stroke-width="1.1">35.0</text>
<text x="1220.8" y="662.2" font-size="13.5" font-weight="normal" font-style="normal" fill="#ffffff" textLength="28.5" lengthAdjust="spacingAndGlyphs" stroke="#fff" stroke-width="0.3">mph</text>
<text x="1229.0" y="682.3" font-size="13.5" font-weight="normal" font-style="normal" fill="#ffffff" textLength="12.0" lengthAdjust="spacingAndGlyphs" stroke="#fff" stroke-width="0.3">5f</text>
<text x="1216.0" y="702.6" font-size="13.5" font-weight="normal" font-style="normal" fill="#ffffff" textLength="38.0" lengthAdjust="spacingAndGlyphs" stroke="#fff" stroke-width="0.3">1m 12s</text>
<rect x="4.5" y="4.5" width="1271" height="711" fill="none" stroke="#000" stroke-opacity="0.1" stroke-width="1"/>
</svg></body></html>
